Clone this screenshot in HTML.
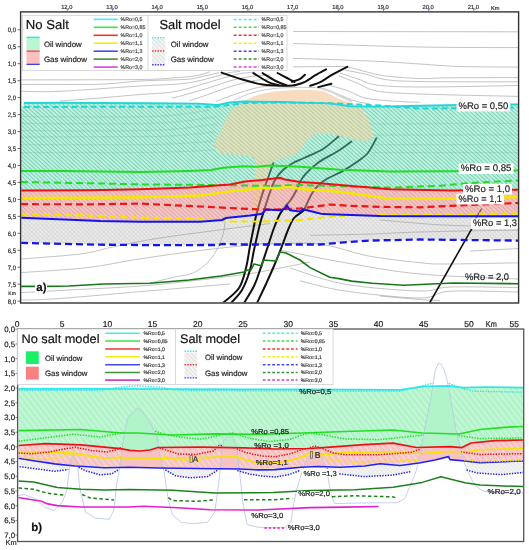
<!DOCTYPE html>
<html><head><meta charset="utf-8"><title>Maturity sections</title>
<style>html,body{margin:0;padding:0;background:#fff;width:529px;height:550px;overflow:hidden}svg{display:block}</style>
</head><body>
<svg width="529" height="550" viewBox="0 0 529 550" font-family="'Liberation Sans', Arial, sans-serif" text-rendering="geometricPrecision">
<defs>
<pattern id="hG" width="2.9" height="2.9" patternUnits="userSpaceOnUse" patternTransform="rotate(42)"><rect width="2.9" height="2.9" fill="#baf3df"/><rect y="0" width="2.9" height="0.9" fill="#80cbb3"/></pattern>
<pattern id="hO" width="3" height="3" patternUnits="userSpaceOnUse" patternTransform="rotate(42)"><rect width="3" height="3" fill="#dce3c0"/><rect y="0" width="3" height="0.9" fill="#bcc69c"/></pattern>
<pattern id="hP" width="3" height="3" patternUnits="userSpaceOnUse" patternTransform="rotate(42)"><rect width="3" height="3" fill="#f5c5c4"/><rect y="0" width="3" height="0.85" fill="#dca4a6"/></pattern>
<pattern id="hS" width="4" height="4" patternUnits="userSpaceOnUse" patternTransform="rotate(40)"><rect width="4" height="4" fill="#f2c6a8"/><rect y="0" width="4" height="1" fill="#e0b090"/></pattern>
<pattern id="hX" width="3" height="3" patternUnits="userSpaceOnUse" patternTransform="rotate(45)"><rect width="3" height="3" fill="#ededed"/><rect width="3" height="0.8" fill="#d2d2d2"/><rect width="0.8" height="3" fill="#dadada"/></pattern>
<pattern id="hL" width="3" height="3" patternUnits="userSpaceOnUse" patternTransform="rotate(45)"><rect width="3" height="3" fill="#f4f4f4"/><rect width="3" height="0.7" fill="#d8d8d8"/></pattern>
<pattern id="bG" width="6" height="6" patternUnits="userSpaceOnUse" patternTransform="rotate(45)"><rect width="6" height="6" fill="#b4f3cb"/><rect y="0" width="6" height="1.6" fill="#d6fae4"/></pattern>
<pattern id="bP" width="6" height="6" patternUnits="userSpaceOnUse" patternTransform="rotate(45)"><rect width="6" height="6" fill="#f7c4c4"/><rect y="0" width="6" height="1.4" fill="#fadada"/></pattern>
<pattern id="bX" width="3" height="3" patternUnits="userSpaceOnUse" patternTransform="rotate(45)"><rect width="3" height="3" fill="#f6f6f6"/><rect width="3" height="0.6" fill="#e2e2e2"/><rect width="0.6" height="3" fill="#e8e8e8"/></pattern>
<clipPath id="cT"><rect x="21.200000000000003" y="12.700000000000001" width="496.8" height="289.70000000000005"/></clipPath>
<clipPath id="cAbove"><polygon points="21.0,12.5 519.0,12.5 519.0,104.4 460.0,105.0 420.0,105.8 380.0,106.6 350.0,106.3 330.0,103.4 308.0,102.9 282.5,102.0 257.0,101.7 243.5,101.5 230.0,102.4 217.8,105.0 198.0,103.6 150.0,103.3 100.0,103.0 60.0,102.8 24.0,103.0 21.0,109.5"/></clipPath>
<clipPath id="cGreen"><polygon points="21.0,109.5 24.0,103.0 60.0,102.8 100.0,103.0 150.0,103.3 198.0,103.6 217.8,105.0 230.0,102.4 243.5,101.5 257.0,101.7 282.5,102.0 308.0,102.9 330.0,103.4 350.0,106.3 380.0,106.6 420.0,105.8 460.0,105.0 519.0,104.4 519.0,189.7 450.0,190.5 390.0,189.3 340.0,185.0 320.0,183.2 300.0,182.0 285.0,179.6 280.0,177.8 262.0,180.0 245.0,181.6 230.0,184.5 190.0,187.6 140.0,189.3 90.0,190.3 21.0,190.5"/></clipPath>
<clipPath id="cPink"><polygon points="21.0,190.5 90.0,190.3 140.0,189.3 190.0,187.6 230.0,184.5 245.0,181.6 262.0,180.0 280.0,177.8 285.0,179.6 300.0,182.0 320.0,183.2 340.0,185.0 390.0,189.3 450.0,190.5 519.0,189.7 519.0,216.2 420.0,216.2 380.0,216.0 351.6,215.0 322.5,214.1 316.0,212.5 303.0,209.3 300.0,211.6 290.0,210.3 287.0,205.4 285.0,208.8 280.0,210.3 266.0,209.6 262.0,213.8 250.0,215.6 226.0,218.0 222.0,220.0 200.0,221.7 140.0,221.7 100.0,221.0 64.0,219.5 21.0,217.7"/></clipPath>
<clipPath id="cOut"><polygon points="21.0,12.5 519.0,12.5 519.0,104.4 460.0,105.0 420.0,105.8 380.0,106.6 350.0,106.3 330.0,103.4 308.0,102.9 282.5,102.0 257.0,101.7 243.5,101.5 230.0,102.4 217.8,105.0 198.0,103.6 150.0,103.3 100.0,103.0 60.0,102.8 24.0,103.0 21.0,109.5"/><polygon points="21.0,217.7 64.0,219.5 100.0,221.0 140.0,221.7 200.0,221.7 222.0,220.0 226.0,218.0 250.0,215.6 262.0,213.8 266.0,209.6 280.0,210.3 285.0,208.8 287.0,205.4 290.0,210.3 300.0,211.6 303.0,209.3 316.0,212.5 322.5,214.1 351.6,215.0 380.0,216.0 420.0,216.2 519.0,216.2 519.0,303.0 21.0,303.0"/></clipPath>
<clipPath id="cB"><rect x="18.200000000000003" y="329.6" width="504.90000000000003" height="211.3"/></clipPath>
</defs>
<rect width="529" height="550" fill="#fff"/>
<g clip-path="url(#cT)">
<polygon points="21.0,217.7 64.0,219.5 100.0,221.0 140.0,221.7 200.0,221.7 222.0,220.0 226.0,218.0 250.0,215.6 262.0,213.8 266.0,209.6 280.0,210.3 285.0,208.8 287.0,205.4 290.0,210.3 300.0,211.6 303.0,209.3 316.0,212.5 322.5,214.1 351.6,215.0 380.0,216.0 420.0,216.2 519.0,216.2 519.0,240.6 420.0,239.5 372.0,240.5 341.0,242.6 320.0,244.5 240.0,244.5 222.0,244.0 218.0,245.0 150.0,245.1 100.0,244.7 21.0,242.9" fill="url(#hX)"/>
<path d="M21.0,79.9 C40.8,79.8 113.8,79.9 140.0,79.5 C166.2,79.1 168.5,78.2 178.0,77.5 C187.5,76.8 191.7,76.5 197.0,75.6 C202.3,74.6 207.8,72.4 210.0,71.8" fill="none" stroke="#9a9a9a" stroke-width="0.6" stroke-linejoin="round" stroke-linecap="butt" />
<path d="M21.0,84.4 C34.2,84.4 80.2,84.8 100.0,84.2 C119.8,83.6 125.5,81.8 140.0,81.0 C154.5,80.2 176.7,80.0 187.0,79.3 C197.3,78.5 196.7,77.6 202.0,76.5 C207.3,75.4 216.2,73.3 219.0,72.7" fill="none" stroke="#9a9a9a" stroke-width="0.6" stroke-linejoin="round" stroke-linecap="butt" />
<path d="M21.0,91.3 C27.5,91.3 40.2,92.2 60.0,91.3 C79.8,90.4 120.3,87.2 140.0,86.0 C159.7,84.8 168.5,84.8 178.0,84.0 C187.5,83.2 190.7,82.5 197.0,81.2 C203.3,80.0 210.3,77.9 215.6,76.5 C220.9,75.1 224.9,73.5 229.0,72.7 C233.1,71.9 238.2,71.7 240.0,71.5" fill="none" stroke="#9a9a9a" stroke-width="0.6" stroke-linejoin="round" stroke-linecap="butt" />
<path d="M60.0,101.0 C66.7,100.5 86.7,99.1 100.0,98.0 C113.3,96.9 128.7,95.4 140.0,94.5 C151.3,93.6 160.2,93.5 168.0,92.6 C175.8,91.6 180.7,90.4 187.0,88.8 C193.3,87.2 199.7,85.0 206.0,83.1 C212.3,81.2 219.3,79.1 225.0,77.5 C230.7,75.9 235.0,74.6 240.0,73.7 C245.0,72.8 252.5,72.3 255.0,72.0" fill="none" stroke="#9a9a9a" stroke-width="0.6" stroke-linejoin="round" stroke-linecap="butt" />
<path d="M172.0,98.2 C175.5,97.3 186.3,94.5 193.0,92.6 C199.7,90.7 206.0,88.8 212.0,86.9 C218.0,85.0 224.3,82.6 229.0,81.2 C233.7,79.8 235.7,79.3 240.0,78.4 C244.3,77.5 250.0,76.6 255.0,76.0 C260.0,75.4 267.5,75.2 270.0,75.0" fill="none" stroke="#9a9a9a" stroke-width="0.6" stroke-linejoin="round" stroke-linecap="butt" />
<path d="M189.0,101.0 C192.2,99.9 201.7,96.7 208.0,94.5 C214.3,92.3 221.7,89.5 227.0,87.8 C232.3,86.0 235.3,85.2 240.0,84.0 C244.7,82.8 250.0,81.3 255.0,80.5 C260.0,79.7 267.5,79.2 270.0,79.0" fill="none" stroke="#9a9a9a" stroke-width="0.6" stroke-linejoin="round" stroke-linecap="butt" />
<path d="M215.6,101.5 C217.8,100.7 224.9,97.9 229.0,96.4 C233.1,94.9 236.2,93.8 240.0,92.6 C243.8,91.4 247.8,90.0 252.0,89.0 C256.2,88.0 258.7,87.0 265.0,86.5 C271.3,86.0 285.8,86.1 290.0,86.0" fill="none" stroke="#9a9a9a" stroke-width="0.6" stroke-linejoin="round" stroke-linecap="butt" />
<path d="M293.0,31.5 L518.0,31.8" fill="none" stroke="#9a9a9a" stroke-width="0.6" stroke-linejoin="round" stroke-linecap="butt" />
<path d="M293.0,43.5 C314.2,44.1 382.5,46.3 420.0,47.0 C457.5,47.7 501.7,47.5 518.0,47.6" fill="none" stroke="#9a9a9a" stroke-width="0.6" stroke-linejoin="round" stroke-linecap="butt" />
<path d="M293.0,58.4 C299.2,58.6 315.5,59.0 330.0,59.5 C344.5,60.0 365.0,60.8 380.0,61.5 C395.0,62.2 406.7,63.2 420.0,64.0 C433.3,64.8 443.7,66.0 460.0,66.5 C476.3,67.0 508.3,67.0 518.0,67.1" fill="none" stroke="#9a9a9a" stroke-width="0.6" stroke-linejoin="round" stroke-linecap="butt" />
<path d="M293.0,66.9 C300.8,66.8 330.7,66.4 340.0,66.5 C349.3,66.6 344.5,66.4 349.0,67.3 C353.5,68.2 360.8,70.5 367.0,72.0 C373.2,73.5 377.2,74.9 386.0,76.0 C394.8,77.1 409.3,78.2 420.0,78.5 C430.7,78.8 433.7,78.0 450.0,77.8 C466.3,77.6 506.7,77.6 518.0,77.6" fill="none" stroke="#9a9a9a" stroke-width="0.6" stroke-linejoin="round" stroke-linecap="butt" />
<path d="M345.0,70.0 C348.7,70.8 360.2,72.9 367.0,74.5 C373.8,76.1 377.2,78.4 386.0,79.6 C394.8,80.8 398.0,81.1 420.0,81.5 C442.0,81.9 501.7,81.8 518.0,81.8" fill="none" stroke="#9a9a9a" stroke-width="0.6" stroke-linejoin="round" stroke-linecap="butt" />
<path d="M340.0,73.0 C343.0,74.0 351.9,77.0 358.0,79.0 C364.1,81.0 366.4,83.7 376.7,85.0 C387.0,86.3 396.4,86.9 420.0,87.0 C443.6,87.1 501.7,85.8 518.0,85.5" fill="none" stroke="#9a9a9a" stroke-width="0.6" stroke-linejoin="round" stroke-linecap="butt" />
<path d="M339.0,75.8 C342.2,77.1 351.7,80.9 358.0,83.4 C364.3,85.9 366.4,89.2 376.7,91.0 C387.0,92.8 396.4,93.1 420.0,94.0 C443.6,94.9 501.7,96.0 518.0,96.4" fill="none" stroke="#9a9a9a" stroke-width="0.6" stroke-linejoin="round" stroke-linecap="butt" />
<path d="M329.5,85.2 C332.6,86.2 342.1,88.8 348.4,91.0 C354.6,93.2 358.4,96.8 367.0,98.5 C375.6,100.2 391.2,100.9 400.0,101.5 C408.8,102.1 416.7,102.2 420.0,102.3" fill="none" stroke="#9a9a9a" stroke-width="0.6" stroke-linejoin="round" stroke-linecap="butt" />
<path d="M322.0,89.0 C325.0,90.0 334.5,93.0 340.0,95.0 C345.5,97.0 350.0,99.5 355.0,101.0 C360.0,102.5 367.5,103.5 370.0,104.0" fill="none" stroke="#9a9a9a" stroke-width="0.6" stroke-linejoin="round" stroke-linecap="butt" />
<path d="M21.0,116.5 C37.5,116.6 95.2,117.1 120.0,116.9 C144.8,116.7 155.0,116.7 170.0,115.5 C185.0,114.3 203.3,110.9 210.0,110.0" fill="none" stroke="#9a9a9a" stroke-width="0.6" stroke-linejoin="round" stroke-linecap="butt" />
<path d="M21.0,123.5 C37.5,123.5 95.2,124.0 120.0,123.8 C144.8,123.6 154.2,123.6 170.0,122.5 C185.8,121.4 207.5,117.9 215.0,117.0" fill="none" stroke="#9a9a9a" stroke-width="0.6" stroke-linejoin="round" stroke-linecap="butt" />
<path d="M21.0,130.5 C37.5,130.6 95.2,131.0 120.0,130.8 C144.8,130.6 153.7,130.6 170.0,129.5 C186.3,128.4 210.0,124.9 218.0,124.0" fill="none" stroke="#9a9a9a" stroke-width="0.6" stroke-linejoin="round" stroke-linecap="butt" />
<path d="M21.0,137.0 C37.5,136.9 95.2,136.9 120.0,136.7 C144.8,136.5 154.2,136.8 170.0,136.0 C185.8,135.2 207.5,132.7 215.0,132.0" fill="none" stroke="#9a9a9a" stroke-width="0.6" stroke-linejoin="round" stroke-linecap="butt" />
<path d="M21.0,144.7 C37.5,144.7 95.2,144.8 120.0,144.7 C144.8,144.6 154.3,144.6 170.0,144.0 C185.7,143.4 206.7,141.5 214.0,141.0" fill="none" stroke="#9a9a9a" stroke-width="0.6" stroke-linejoin="round" stroke-linecap="butt" />
<path d="M21.0,152.6 C37.5,152.6 95.2,152.7 120.0,152.6 C144.8,152.5 154.0,152.4 170.0,152.0 C186.0,151.6 208.3,150.3 216.0,150.0" fill="none" stroke="#9a9a9a" stroke-width="0.6" stroke-linejoin="round" stroke-linecap="butt" />
<path d="M372.0,124.0 C385.0,123.9 425.7,123.6 450.0,123.5 C474.3,123.4 506.7,123.5 518.0,123.5" fill="none" stroke="#9a9a9a" stroke-width="0.6" stroke-linejoin="round" stroke-linecap="butt" />
<path d="M372.0,135.0 C385.0,135.0 425.7,134.9 450.0,134.9 C474.3,134.9 506.7,134.9 518.0,134.9" fill="none" stroke="#9a9a9a" stroke-width="0.6" stroke-linejoin="round" stroke-linecap="butt" />
<path d="M372.0,144.7 C385.0,144.7 425.7,144.7 450.0,144.7 C474.3,144.7 506.7,144.7 518.0,144.7" fill="none" stroke="#9a9a9a" stroke-width="0.6" stroke-linejoin="round" stroke-linecap="butt" />
<path d="M372.0,152.6 C385.0,152.6 425.7,152.6 450.0,152.6 C474.3,152.6 506.7,152.6 518.0,152.6" fill="none" stroke="#9a9a9a" stroke-width="0.6" stroke-linejoin="round" stroke-linecap="butt" />
<path d="M21.0,259.0 C31.0,258.1 65.8,255.9 81.0,253.9 C96.2,251.9 99.5,249.7 112.0,247.1 C124.5,244.5 141.3,241.0 156.0,238.6 C170.7,236.2 184.3,234.6 200.0,232.5 C215.7,230.4 238.3,227.5 250.0,226.0 C261.7,224.5 266.7,223.9 270.0,223.5" fill="none" stroke="#9a9a9a" stroke-width="0.6" stroke-linejoin="round" stroke-linecap="butt" />
<path d="M21.0,272.6 C32.2,271.8 68.3,269.8 88.0,267.5 C107.7,265.2 120.3,261.8 139.0,259.0 C157.7,256.2 178.2,253.2 200.0,250.5 C221.8,247.8 258.3,244.2 270.0,243.0" fill="none" stroke="#9a9a9a" stroke-width="0.6" stroke-linejoin="round" stroke-linecap="butt" />
<path d="M21.0,292.6 C29.0,292.2 47.5,291.2 69.0,290.0 C90.5,288.8 121.5,287.7 150.0,285.2 C178.5,282.7 218.3,277.9 240.0,275.0 C261.7,272.1 268.3,270.2 280.0,268.0 C291.7,265.8 305.0,263.0 310.0,262.0" fill="none" stroke="#9a9a9a" stroke-width="0.6" stroke-linejoin="round" stroke-linecap="butt" />
<path d="M21.0,300.0 C27.0,299.8 35.5,300.2 57.0,298.7 C78.5,297.2 121.2,293.2 150.0,290.8 C178.8,288.4 216.7,285.1 230.0,284.0" fill="none" stroke="#9a9a9a" stroke-width="0.6" stroke-linejoin="round" stroke-linecap="butt" />
<path d="M270.0,244.0 C278.3,244.0 303.7,242.0 320.0,244.0 C336.3,246.0 351.3,252.8 368.0,255.9 C384.7,259.0 406.8,261.3 420.0,262.7 C433.2,264.1 430.7,264.0 447.0,264.0 C463.3,264.0 506.2,263.0 518.0,262.8" fill="none" stroke="#9a9a9a" stroke-width="0.6" stroke-linejoin="round" stroke-linecap="butt" />
<path d="M470.0,251.0 L518.0,248.6" fill="none" stroke="#9a9a9a" stroke-width="0.6" stroke-linejoin="round" stroke-linecap="butt" />
<path d="M280.0,250.0 C290.8,252.1 321.7,258.7 345.0,262.7 C368.3,266.7 391.2,271.3 420.0,274.0 C448.8,276.7 501.7,278.2 518.0,279.0" fill="none" stroke="#9a9a9a" stroke-width="0.6" stroke-linejoin="round" stroke-linecap="butt" />
<path d="M290.0,268.0 C299.2,270.7 323.3,280.4 345.0,284.2 C366.7,288.0 402.5,290.5 420.0,291.0 C437.5,291.5 433.7,287.6 450.0,287.0 C466.3,286.4 506.7,287.5 518.0,287.6" fill="none" stroke="#9a9a9a" stroke-width="0.6" stroke-linejoin="round" stroke-linecap="butt" />
<path d="M300.0,280.8 C307.5,282.5 325.0,288.1 345.0,291.0 C365.0,293.9 402.5,298.0 420.0,298.0 C437.5,298.0 433.7,292.2 450.0,291.2 C466.3,290.2 506.7,291.9 518.0,292.0" fill="none" stroke="#9a9a9a" stroke-width="0.6" stroke-linejoin="round" stroke-linecap="butt" />
<path d="M380.0,296.0 C386.7,296.6 410.0,298.7 420.0,299.5 C430.0,300.3 436.7,300.4 440.0,300.6" fill="none" stroke="#9a9a9a" stroke-width="0.6" stroke-linejoin="round" stroke-linecap="butt" />
<path d="M380.0,220.0 C391.7,220.9 427.0,224.4 450.0,225.4 C473.0,226.4 506.7,225.9 518.0,226.0" fill="none" stroke="#9a9a9a" stroke-width="0.6" stroke-linejoin="round" stroke-linecap="butt" />
<path d="M310.0,235.3 C320.3,235.1 353.7,234.6 372.0,234.0 C390.3,233.4 395.7,232.7 420.0,232.0 C444.3,231.3 501.7,230.3 518.0,230.0" fill="none" stroke="#9a9a9a" stroke-width="0.6" stroke-linejoin="round" stroke-linecap="butt" />
<path d="M150.0,283.0 C154.2,282.0 167.7,278.7 175.0,277.0 C182.3,275.3 187.9,275.5 193.6,272.8 C199.3,270.1 204.8,265.5 209.0,261.0 C213.2,256.5 216.5,250.7 219.0,245.6 C221.5,240.5 223.0,234.6 224.0,230.3 C225.0,226.0 224.8,221.7 225.0,220.0" fill="none" stroke="#9a9a9a" stroke-width="0.6" stroke-linejoin="round" stroke-linecap="butt" />
<polygon points="21.0,109.5 24.0,103.0 60.0,102.8 100.0,103.0 150.0,103.3 198.0,103.6 217.8,105.0 230.0,102.4 243.5,101.5 257.0,101.7 282.5,102.0 308.0,102.9 330.0,103.4 350.0,106.3 380.0,106.6 420.0,105.8 460.0,105.0 519.0,104.4 519.0,189.7 450.0,190.5 390.0,189.3 340.0,185.0 320.0,183.2 300.0,182.0 285.0,179.6 280.0,177.8 262.0,180.0 245.0,181.6 230.0,184.5 190.0,187.6 140.0,189.3 90.0,190.3 21.0,190.5" fill="url(#hG)"/>
<path d="M21.0,116.5 C37.5,116.6 95.2,117.1 120.0,116.9 C144.8,116.7 155.0,116.7 170.0,115.5 C185.0,114.3 203.3,110.9 210.0,110.0" fill="none" stroke="#7fbfae" stroke-width="0.5" stroke-linejoin="round" stroke-linecap="butt" stroke-opacity="0.7" />
<path d="M21.0,123.5 C37.5,123.5 95.2,124.0 120.0,123.8 C144.8,123.6 154.2,123.6 170.0,122.5 C185.8,121.4 207.5,117.9 215.0,117.0" fill="none" stroke="#7fbfae" stroke-width="0.5" stroke-linejoin="round" stroke-linecap="butt" stroke-opacity="0.7" />
<path d="M21.0,130.5 C37.5,130.6 95.2,131.0 120.0,130.8 C144.8,130.6 153.7,130.6 170.0,129.5 C186.3,128.4 210.0,124.9 218.0,124.0" fill="none" stroke="#7fbfae" stroke-width="0.5" stroke-linejoin="round" stroke-linecap="butt" stroke-opacity="0.7" />
<path d="M21.0,137.0 C37.5,136.9 95.2,136.9 120.0,136.7 C144.8,136.5 154.2,136.8 170.0,136.0 C185.8,135.2 207.5,132.7 215.0,132.0" fill="none" stroke="#7fbfae" stroke-width="0.5" stroke-linejoin="round" stroke-linecap="butt" stroke-opacity="0.7" />
<path d="M21.0,144.7 C37.5,144.7 95.2,144.8 120.0,144.7 C144.8,144.6 154.3,144.6 170.0,144.0 C185.7,143.4 206.7,141.5 214.0,141.0" fill="none" stroke="#7fbfae" stroke-width="0.5" stroke-linejoin="round" stroke-linecap="butt" stroke-opacity="0.7" />
<path d="M21.0,152.6 C37.5,152.6 95.2,152.7 120.0,152.6 C144.8,152.5 154.0,152.4 170.0,152.0 C186.0,151.6 208.3,150.3 216.0,150.0" fill="none" stroke="#7fbfae" stroke-width="0.5" stroke-linejoin="round" stroke-linecap="butt" stroke-opacity="0.7" />
<path d="M372.0,124.0 C385.0,123.9 425.7,123.6 450.0,123.5 C474.3,123.4 506.7,123.5 518.0,123.5" fill="none" stroke="#7fbfae" stroke-width="0.5" stroke-linejoin="round" stroke-linecap="butt" stroke-opacity="0.7" />
<path d="M372.0,135.0 C385.0,135.0 425.7,134.9 450.0,134.9 C474.3,134.9 506.7,134.9 518.0,134.9" fill="none" stroke="#7fbfae" stroke-width="0.5" stroke-linejoin="round" stroke-linecap="butt" stroke-opacity="0.7" />
<path d="M372.0,144.7 C385.0,144.7 425.7,144.7 450.0,144.7 C474.3,144.7 506.7,144.7 518.0,144.7" fill="none" stroke="#7fbfae" stroke-width="0.5" stroke-linejoin="round" stroke-linecap="butt" stroke-opacity="0.7" />
<path d="M372.0,152.6 C385.0,152.6 425.7,152.6 450.0,152.6 C474.3,152.6 506.7,152.6 518.0,152.6" fill="none" stroke="#7fbfae" stroke-width="0.5" stroke-linejoin="round" stroke-linecap="butt" stroke-opacity="0.7" />
<polygon points="21.0,190.5 90.0,190.3 140.0,189.3 190.0,187.6 230.0,184.5 245.0,181.6 262.0,180.0 280.0,177.8 285.0,179.6 300.0,182.0 320.0,183.2 340.0,185.0 390.0,189.3 450.0,190.5 519.0,189.7 519.0,216.2 420.0,216.2 380.0,216.0 351.6,215.0 322.5,214.1 316.0,212.5 303.0,209.3 300.0,211.6 290.0,210.3 287.0,205.4 285.0,208.8 280.0,210.3 266.0,209.6 262.0,213.8 250.0,215.6 226.0,218.0 222.0,220.0 200.0,221.7 140.0,221.7 100.0,221.0 64.0,219.5 21.0,217.7" fill="url(#hP)"/>
<g clip-path="url(#cAbove)"><polygon points="240.0,102.0 243.5,101.2 248.0,99.0 253.0,96.8 262.4,93.8 274.0,91.5 291.0,90.2 308.0,89.8 323.5,91.0 336.7,97.8 345.0,101.0 352.0,103.0 357.0,105.5 363.0,110.0 367.5,117.0 371.0,126.0 373.5,134.0 372.5,138.5 368.0,140.5 362.0,140.8 355.6,139.7 344.3,136.9 331.0,134.0 317.8,133.6 310.2,136.9 304.6,143.5 300.8,149.0 295.0,154.8 285.7,157.7 278.0,159.5 274.0,162.0 268.0,178.0 262.0,195.0 258.0,207.0 256.0,216.0 253.0,217.0 252.4,215.0 253.0,200.0 254.6,177.0 255.3,165.0 254.0,157.0 240.0,155.0 222.0,153.5 217.0,151.0 214.0,145.0 216.0,139.0 220.5,132.0 222.2,126.0 226.7,118.0 232.4,109.0 239.0,103.3" fill="#f9dcc0"/></g>
<g clip-path="url(#cGreen)"><polygon points="240.0,102.0 243.5,101.2 248.0,99.0 253.0,96.8 262.4,93.8 274.0,91.5 291.0,90.2 308.0,89.8 323.5,91.0 336.7,97.8 345.0,101.0 352.0,103.0 357.0,105.5 363.0,110.0 367.5,117.0 371.0,126.0 373.5,134.0 372.5,138.5 368.0,140.5 362.0,140.8 355.6,139.7 344.3,136.9 331.0,134.0 317.8,133.6 310.2,136.9 304.6,143.5 300.8,149.0 295.0,154.8 285.7,157.7 278.0,159.5 274.0,162.0 268.0,178.0 262.0,195.0 258.0,207.0 256.0,216.0 253.0,217.0 252.4,215.0 253.0,200.0 254.6,177.0 255.3,165.0 254.0,157.0 240.0,155.0 222.0,153.5 217.0,151.0 214.0,145.0 216.0,139.0 220.5,132.0 222.2,126.0 226.7,118.0 232.4,109.0 239.0,103.3" fill="url(#hO)"/></g>
<g clip-path="url(#cPink)"><polygon points="240.0,102.0 243.5,101.2 248.0,99.0 253.0,96.8 262.4,93.8 274.0,91.5 291.0,90.2 308.0,89.8 323.5,91.0 336.7,97.8 345.0,101.0 352.0,103.0 357.0,105.5 363.0,110.0 367.5,117.0 371.0,126.0 373.5,134.0 372.5,138.5 368.0,140.5 362.0,140.8 355.6,139.7 344.3,136.9 331.0,134.0 317.8,133.6 310.2,136.9 304.6,143.5 300.8,149.0 295.0,154.8 285.7,157.7 278.0,159.5 274.0,162.0 268.0,178.0 262.0,195.0 258.0,207.0 256.0,216.0 253.0,217.0 252.4,215.0 253.0,200.0 254.6,177.0 255.3,165.0 254.0,157.0 240.0,155.0 222.0,153.5 217.0,151.0 214.0,145.0 216.0,139.0 220.5,132.0 222.2,126.0 226.7,118.0 232.4,109.0 239.0,103.3" fill="url(#hS)"/></g>
<path d="M318.0,87.5 C320.0,88.1 326.3,89.6 330.0,91.0 C333.7,92.4 336.3,94.2 340.0,96.0 C343.7,97.8 350.0,100.6 352.0,101.5" fill="none" stroke="#d8d8d8" stroke-width="2.2" stroke-linejoin="round" stroke-linecap="butt" />
<path d="M234.0,100.5 C235.8,99.6 240.3,97.0 245.0,95.3 C249.7,93.6 256.2,91.5 262.0,90.3 C267.8,89.1 273.7,88.5 280.0,88.0 C286.3,87.5 293.7,87.5 300.0,87.4 C306.3,87.4 315.0,87.7 318.0,87.7" fill="none" stroke="#c4c4c4" stroke-width="0.9" stroke-linejoin="round" stroke-linecap="butt" />
<g clip-path="url(#cOut)"><path d="M223.0,303.0 C225.7,300.5 235.2,293.8 239.0,288.0 C242.8,282.2 244.2,275.0 246.0,268.0 C247.8,261.0 248.7,253.0 250.0,246.0 C251.3,239.0 253.0,231.0 254.0,226.0 C255.0,221.0 254.7,221.2 256.0,216.0 C257.3,210.8 260.0,201.3 262.0,195.0 C264.0,188.7 266.1,183.4 268.0,178.0 C269.9,172.6 272.6,165.1 273.5,162.5" fill="none" stroke="#111" stroke-width="2.0" stroke-linejoin="round" stroke-linecap="butt" /></g>
<g clip-path="url(#cGreen)"><path d="M223.0,303.0 C225.7,300.5 235.2,293.8 239.0,288.0 C242.8,282.2 244.2,275.0 246.0,268.0 C247.8,261.0 248.7,253.0 250.0,246.0 C251.3,239.0 253.0,231.0 254.0,226.0 C255.0,221.0 254.7,221.2 256.0,216.0 C257.3,210.8 260.0,201.3 262.0,195.0 C264.0,188.7 266.1,183.4 268.0,178.0 C269.9,172.6 272.6,165.1 273.5,162.5" fill="none" stroke="#2e6e5e" stroke-width="1.8" stroke-linejoin="round" stroke-linecap="butt" /></g>
<g clip-path="url(#cPink)"><path d="M223.0,303.0 C225.7,300.5 235.2,293.8 239.0,288.0 C242.8,282.2 244.2,275.0 246.0,268.0 C247.8,261.0 248.7,253.0 250.0,246.0 C251.3,239.0 253.0,231.0 254.0,226.0 C255.0,221.0 254.7,221.2 256.0,216.0 C257.3,210.8 260.0,201.3 262.0,195.0 C264.0,188.7 266.1,183.4 268.0,178.0 C269.9,172.6 272.6,165.1 273.5,162.5" fill="none" stroke="#8a5a58" stroke-width="2.0" stroke-linejoin="round" stroke-linecap="butt" /></g>
<g clip-path="url(#cOut)"><path d="M231.0,303.0 C232.8,300.8 238.8,295.5 242.0,290.0 C245.2,284.5 248.0,276.7 250.0,270.0 C252.0,263.3 252.3,257.7 254.0,250.0 C255.7,242.3 258.5,230.0 260.0,224.0 C261.5,218.0 261.5,218.8 263.0,214.0 C264.5,209.2 267.0,200.7 269.0,195.0 C271.0,189.3 272.7,184.2 275.0,180.0 C277.3,175.8 280.0,172.8 283.0,170.0 C286.0,167.2 289.5,165.0 293.0,163.0 C296.5,161.0 299.0,160.3 304.0,158.0 C309.0,155.7 317.2,152.7 323.0,149.0 C328.8,145.3 336.3,138.2 339.0,136.0" fill="none" stroke="#111" stroke-width="2.0" stroke-linejoin="round" stroke-linecap="butt" /></g>
<g clip-path="url(#cGreen)"><path d="M231.0,303.0 C232.8,300.8 238.8,295.5 242.0,290.0 C245.2,284.5 248.0,276.7 250.0,270.0 C252.0,263.3 252.3,257.7 254.0,250.0 C255.7,242.3 258.5,230.0 260.0,224.0 C261.5,218.0 261.5,218.8 263.0,214.0 C264.5,209.2 267.0,200.7 269.0,195.0 C271.0,189.3 272.7,184.2 275.0,180.0 C277.3,175.8 280.0,172.8 283.0,170.0 C286.0,167.2 289.5,165.0 293.0,163.0 C296.5,161.0 299.0,160.3 304.0,158.0 C309.0,155.7 317.2,152.7 323.0,149.0 C328.8,145.3 336.3,138.2 339.0,136.0" fill="none" stroke="#2e6e5e" stroke-width="1.8" stroke-linejoin="round" stroke-linecap="butt" /></g>
<g clip-path="url(#cPink)"><path d="M231.0,303.0 C232.8,300.8 238.8,295.5 242.0,290.0 C245.2,284.5 248.0,276.7 250.0,270.0 C252.0,263.3 252.3,257.7 254.0,250.0 C255.7,242.3 258.5,230.0 260.0,224.0 C261.5,218.0 261.5,218.8 263.0,214.0 C264.5,209.2 267.0,200.7 269.0,195.0 C271.0,189.3 272.7,184.2 275.0,180.0 C277.3,175.8 280.0,172.8 283.0,170.0 C286.0,167.2 289.5,165.0 293.0,163.0 C296.5,161.0 299.0,160.3 304.0,158.0 C309.0,155.7 317.2,152.7 323.0,149.0 C328.8,145.3 336.3,138.2 339.0,136.0" fill="none" stroke="#8a5a58" stroke-width="2.0" stroke-linejoin="round" stroke-linecap="butt" /></g>
<g clip-path="url(#cOut)"><path d="M244.0,303.0 C245.7,300.2 251.3,291.5 254.0,286.0 C256.7,280.5 257.7,276.7 260.0,270.0 C262.3,263.3 265.7,253.0 268.0,246.0 C270.3,239.0 272.0,233.3 274.0,228.0 C276.0,222.7 278.0,217.7 280.0,214.0 C282.0,210.3 284.2,207.9 286.0,205.6 C287.8,203.3 289.0,202.5 290.7,200.0 C292.4,197.5 294.8,193.5 296.3,190.5 C297.9,187.5 298.4,184.8 300.0,182.0 C301.6,179.2 302.8,176.8 306.0,173.5 C309.2,170.2 313.7,165.8 319.0,162.0 C324.3,158.2 332.5,154.5 338.0,151.0 C343.5,147.5 349.7,142.7 352.0,141.0" fill="none" stroke="#111" stroke-width="2.0" stroke-linejoin="round" stroke-linecap="butt" /></g>
<g clip-path="url(#cGreen)"><path d="M244.0,303.0 C245.7,300.2 251.3,291.5 254.0,286.0 C256.7,280.5 257.7,276.7 260.0,270.0 C262.3,263.3 265.7,253.0 268.0,246.0 C270.3,239.0 272.0,233.3 274.0,228.0 C276.0,222.7 278.0,217.7 280.0,214.0 C282.0,210.3 284.2,207.9 286.0,205.6 C287.8,203.3 289.0,202.5 290.7,200.0 C292.4,197.5 294.8,193.5 296.3,190.5 C297.9,187.5 298.4,184.8 300.0,182.0 C301.6,179.2 302.8,176.8 306.0,173.5 C309.2,170.2 313.7,165.8 319.0,162.0 C324.3,158.2 332.5,154.5 338.0,151.0 C343.5,147.5 349.7,142.7 352.0,141.0" fill="none" stroke="#2e6e5e" stroke-width="1.8" stroke-linejoin="round" stroke-linecap="butt" /></g>
<g clip-path="url(#cPink)"><path d="M244.0,303.0 C245.7,300.2 251.3,291.5 254.0,286.0 C256.7,280.5 257.7,276.7 260.0,270.0 C262.3,263.3 265.7,253.0 268.0,246.0 C270.3,239.0 272.0,233.3 274.0,228.0 C276.0,222.7 278.0,217.7 280.0,214.0 C282.0,210.3 284.2,207.9 286.0,205.6 C287.8,203.3 289.0,202.5 290.7,200.0 C292.4,197.5 294.8,193.5 296.3,190.5 C297.9,187.5 298.4,184.8 300.0,182.0 C301.6,179.2 302.8,176.8 306.0,173.5 C309.2,170.2 313.7,165.8 319.0,162.0 C324.3,158.2 332.5,154.5 338.0,151.0 C343.5,147.5 349.7,142.7 352.0,141.0" fill="none" stroke="#8a5a58" stroke-width="2.0" stroke-linejoin="round" stroke-linecap="butt" /></g>
<g clip-path="url(#cOut)"><path d="M257.0,303.0 C258.5,299.8 263.2,290.2 266.0,284.0 C268.8,277.8 271.3,272.3 274.0,266.0 C276.7,259.7 279.7,252.0 282.0,246.0 C284.3,240.0 286.0,234.7 288.0,230.0 C290.0,225.3 291.5,221.2 294.0,218.0 C296.5,214.8 301.0,213.1 303.0,211.0 C305.0,208.9 304.6,208.4 306.0,205.6 C307.4,202.8 309.7,197.5 311.5,194.3 C313.3,191.2 314.5,189.2 317.0,186.7 C319.5,184.1 322.5,181.5 326.6,179.0 C330.7,176.5 336.7,174.4 341.7,171.6 C346.7,168.8 352.4,165.2 356.8,162.0 C361.2,158.8 364.7,156.8 368.0,152.7 C371.3,148.6 375.2,140.1 376.7,137.6" fill="none" stroke="#111" stroke-width="2.0" stroke-linejoin="round" stroke-linecap="butt" /></g>
<g clip-path="url(#cGreen)"><path d="M257.0,303.0 C258.5,299.8 263.2,290.2 266.0,284.0 C268.8,277.8 271.3,272.3 274.0,266.0 C276.7,259.7 279.7,252.0 282.0,246.0 C284.3,240.0 286.0,234.7 288.0,230.0 C290.0,225.3 291.5,221.2 294.0,218.0 C296.5,214.8 301.0,213.1 303.0,211.0 C305.0,208.9 304.6,208.4 306.0,205.6 C307.4,202.8 309.7,197.5 311.5,194.3 C313.3,191.2 314.5,189.2 317.0,186.7 C319.5,184.1 322.5,181.5 326.6,179.0 C330.7,176.5 336.7,174.4 341.7,171.6 C346.7,168.8 352.4,165.2 356.8,162.0 C361.2,158.8 364.7,156.8 368.0,152.7 C371.3,148.6 375.2,140.1 376.7,137.6" fill="none" stroke="#2e6e5e" stroke-width="1.8" stroke-linejoin="round" stroke-linecap="butt" /></g>
<g clip-path="url(#cPink)"><path d="M257.0,303.0 C258.5,299.8 263.2,290.2 266.0,284.0 C268.8,277.8 271.3,272.3 274.0,266.0 C276.7,259.7 279.7,252.0 282.0,246.0 C284.3,240.0 286.0,234.7 288.0,230.0 C290.0,225.3 291.5,221.2 294.0,218.0 C296.5,214.8 301.0,213.1 303.0,211.0 C305.0,208.9 304.6,208.4 306.0,205.6 C307.4,202.8 309.7,197.5 311.5,194.3 C313.3,191.2 314.5,189.2 317.0,186.7 C319.5,184.1 322.5,181.5 326.6,179.0 C330.7,176.5 336.7,174.4 341.7,171.6 C346.7,168.8 352.4,165.2 356.8,162.0 C361.2,158.8 364.7,156.8 368.0,152.7 C371.3,148.6 375.2,140.1 376.7,137.6" fill="none" stroke="#8a5a58" stroke-width="2.0" stroke-linejoin="round" stroke-linecap="butt" /></g>
<path d="M429.6,303.0 L472.0,228.3" fill="none" stroke="#111" stroke-width="1.6" stroke-linejoin="round" stroke-linecap="butt" />
<path d="M472.0,228.3 L476.0,218.0 L481.7,208.7" fill="none" stroke="#8a5a58" stroke-width="1.4" stroke-linejoin="round" stroke-linecap="butt" />
<path d="M221.6,72.6 C224.9,73.7 234.7,77.2 241.5,79.2 C248.3,81.2 255.6,83.4 262.6,84.5 C269.7,85.6 278.5,85.7 283.8,85.8 C289.1,85.9 292.6,85.4 294.4,85.3" fill="none" stroke="#111" stroke-width="2.0" stroke-linejoin="round" stroke-linecap="round" />
<path d="M253.4,73.1 C255.8,74.5 263.7,79.8 267.9,81.8 C272.1,83.8 276.7,84.7 278.5,85.3" fill="none" stroke="#111" stroke-width="2.0" stroke-linejoin="round" stroke-linecap="round" />
<path d="M262.6,73.1 C264.8,74.4 271.8,79.0 275.8,81.0 C279.8,83.0 284.6,84.6 286.4,85.3" fill="none" stroke="#111" stroke-width="2.0" stroke-linejoin="round" stroke-linecap="round" />
<path d="M277.5,73.0 C278.9,73.8 283.2,76.0 286.0,77.5 C288.8,79.0 293.1,81.2 294.5,82.0" fill="none" stroke="#111" stroke-width="2.0" stroke-linejoin="round" stroke-linecap="round" />
<path d="M305.0,74.7 C304.1,75.5 301.9,78.0 299.7,79.2 C297.5,80.4 293.0,81.4 291.7,81.8" fill="none" stroke="#111" stroke-width="2.0" stroke-linejoin="round" stroke-linecap="round" />
<path d="M326.1,69.4 C324.3,70.4 319.0,73.1 315.5,75.2 C312.0,77.3 308.5,80.1 305.0,81.8 C301.5,83.5 296.2,84.7 294.4,85.3" fill="none" stroke="#111" stroke-width="2.0" stroke-linejoin="round" stroke-linecap="round" />
<path d="M347.3,66.8 C344.6,68.2 335.8,72.7 331.4,75.2 C327.0,77.7 324.3,80.0 320.8,81.8 C317.3,83.6 312.0,85.1 310.2,85.8" fill="none" stroke="#111" stroke-width="2.0" stroke-linejoin="round" stroke-linecap="round" />
<path d="M331.4,83.7 L318.2,87.1" fill="none" stroke="#111" stroke-width="2.0" stroke-linejoin="round" stroke-linecap="round" />
<path d="M21.0,242.9 L100.0,244.7 L150.0,245.1 L218.0,245.0 L222.0,244.0 L240.0,244.5 L320.0,244.5 L341.0,242.6 L372.0,240.5 L420.0,239.5 L519.0,240.6" fill="none" stroke="#1515e8" stroke-width="2.3" stroke-linejoin="round" stroke-linecap="butt" stroke-dasharray="7 4" />
<path d="M21.0,286.4 L44.6,286.4 L69.0,286.0 L103.5,284.0 L150.0,283.2 L189.0,280.0 L221.0,276.0 L244.0,272.0 L247.0,270.0 L251.0,270.0 L254.0,264.0 L262.0,266.0 L263.0,260.0 L276.0,261.0 L280.0,252.0 L286.0,253.0 L300.0,260.0 L310.0,267.6 L329.8,277.3 L339.0,278.6 L351.6,281.1 L372.4,283.2 L403.6,285.2 L453.5,283.0 L519.0,283.7" fill="none" stroke="#187818" stroke-width="1.6" stroke-linejoin="round" stroke-linecap="butt" />
<path d="M21.0,214.1 L60.0,214.5 L140.0,217.6 L200.0,218.8 L230.0,221.5 L260.0,221.5 L300.0,220.0 L322.0,217.5 L335.0,216.2 L345.0,215.8" fill="none" stroke="#f2e600" stroke-width="2.2" stroke-linejoin="round" stroke-linecap="butt" stroke-dasharray="7 4" />
<path d="M380.0,214.3 L420.0,214.5 L519.0,213.5" fill="none" stroke="#f2e600" stroke-width="2.2" stroke-linejoin="round" stroke-linecap="butt" stroke-dasharray="7 4" />
<path d="M21.0,204.2 L90.0,204.3 L140.0,203.6 L200.0,206.5 L250.0,209.0 L270.0,209.7 L300.0,208.5 L330.0,204.6 L351.0,205.8 L380.0,206.9 L420.0,207.3 L470.0,205.0 L519.0,202.9" fill="none" stroke="#ee1515" stroke-width="2.2" stroke-linejoin="round" stroke-linecap="butt" stroke-dasharray="7 4" />
<path d="M21.0,182.1 L80.0,183.0 L140.0,184.4 L220.0,185.0 L270.0,186.0 L300.0,185.0 L390.0,187.6 L440.0,185.7 L470.0,183.0 L519.0,180.4" fill="none" stroke="#22dd22" stroke-width="2.0" stroke-linejoin="round" stroke-linecap="butt" stroke-dasharray="7 4" />
<path d="M21.0,217.7 L64.0,219.5 L100.0,221.0 L140.0,221.7 L200.0,221.7 L222.0,220.0 L226.0,218.0 L250.0,215.6 L262.0,213.8 L266.0,209.6 L280.0,210.3 L285.0,208.8 L287.0,205.4 L290.0,210.3 L300.0,211.6 L303.0,209.3 L316.0,212.5 L322.5,214.1 L351.6,215.0 L380.0,216.0 L420.0,216.2 L519.0,216.2" fill="none" stroke="#1515e8" stroke-width="2.0" stroke-linejoin="round" stroke-linecap="butt" />
<path d="M21.0,198.0 L90.0,197.8 L140.0,197.2 L200.0,195.5 L230.0,191.4 L250.0,189.2 L265.0,187.7 L275.0,188.4 L290.0,186.9 L300.0,189.0 L340.0,191.8 L390.0,198.6 L450.0,198.5 L519.0,197.0" fill="none" stroke="#f5e800" stroke-width="2.4" stroke-linejoin="round" stroke-linecap="butt" />
<path d="M21.0,190.5 L90.0,190.3 L140.0,189.3 L190.0,187.6 L230.0,184.5 L245.0,181.6 L262.0,180.0 L280.0,177.8 L285.0,179.6 L300.0,182.0 L320.0,183.2 L340.0,185.0 L390.0,189.3 L450.0,190.5 L519.0,189.7" fill="none" stroke="#ee1111" stroke-width="2.0" stroke-linejoin="round" stroke-linecap="butt" />
<path d="M21.0,171.0 L64.0,171.0 L140.0,172.1 L190.0,171.0 L211.0,170.1 L223.5,167.7 L243.0,166.2 L257.0,166.7 L270.0,165.5 L300.0,166.7 L340.0,169.7 L390.0,171.6 L450.0,171.2 L519.0,170.5" fill="none" stroke="#22dd22" stroke-width="2.0" stroke-linejoin="round" stroke-linecap="butt" />
<path d="M24.0,107.0 L100.0,106.8 L215.0,106.8 L232.0,104.5 L245.0,103.0 L280.0,102.5 L320.0,102.9 L357.8,104.4 L380.5,105.6 L420.0,108.6 L519.0,107.6" fill="none" stroke="#20d6d6" stroke-width="2.0" stroke-linejoin="round" stroke-linecap="butt" stroke-dasharray="6 3.5" />
<path d="M24.0,103.0 L60.0,102.8 L100.0,103.0 L150.0,103.3 L198.0,103.6 L217.8,105.0 L230.0,102.4 L243.5,101.5 L257.0,101.7 L282.5,102.0 L308.0,102.9 L330.0,103.4 L350.0,106.3 L380.0,106.6 L420.0,105.8 L460.0,105.0 L519.0,104.4" fill="none" stroke="#1fd6d8" stroke-width="1.9" stroke-linejoin="round" stroke-linecap="butt" />
</g>
<rect x="456.6" y="100.8" width="53.6" height="10.6" fill="#fff"/><text x="458.6" y="108.6" font-size="9.5" fill="#262626" textLength="49.6" lengthAdjust="spacingAndGlyphs" stroke="#262626" stroke-width="0.2" >%Ro = 0,50</text>
<rect x="458.7" y="163.4" width="54.8" height="10.6" fill="#fff"/><text x="460.7" y="171.2" font-size="9.5" fill="#262626" textLength="50.8" lengthAdjust="spacingAndGlyphs" stroke="#262626" stroke-width="0.2" >%Ro = 0,85</text>
<rect x="463.0" y="184.0" width="49.0" height="10.6" fill="#fff"/><text x="465.0" y="191.8" font-size="9.5" fill="#262626" textLength="45" lengthAdjust="spacingAndGlyphs" stroke="#262626" stroke-width="0.2" >%Ro = 1,0</text>
<rect x="456.6" y="193.8" width="47.4" height="10.6" fill="#fff"/><text x="458.6" y="201.6" font-size="9.5" fill="#262626" textLength="43.4" lengthAdjust="spacingAndGlyphs" stroke="#262626" stroke-width="0.2" >%Ro = 1,1</text>
<rect x="471.0" y="218.3" width="48.0" height="10.6" fill="#fff"/><text x="473.0" y="226.1" font-size="9.5" fill="#262626" textLength="44" lengthAdjust="spacingAndGlyphs" stroke="#262626" stroke-width="0.2" >%Ro = 1,3</text>
<text x="465.0" y="280.0" font-size="9.5" fill="#262626" textLength="44" lengthAdjust="spacingAndGlyphs" stroke="#262626" stroke-width="0.2" >%Ro = 2,0</text>
<rect x="35" y="282" width="12" height="11" fill="#fff"/>
<text x="36.3" y="291.3" font-size="11.5" fill="#111" font-weight="bold" stroke="#111" stroke-width="0.18" >a)</text>
<rect x="20.6" y="11.9" width="498.0" height="291.1" fill="none" stroke="#333" stroke-width="1.4"/>
<line x1="67.2" y1="8.6" x2="67.2" y2="11.5" stroke="#6a6ad8" stroke-width="0.9"/>
<text x="66.8" y="8.6" font-size="5.8" fill="#333" text-anchor="middle" stroke="#333" stroke-width="0.18" >12,0</text>
<line x1="112.4" y1="8.6" x2="112.4" y2="11.5" stroke="#6a6ad8" stroke-width="0.9"/>
<text x="112.0" y="8.6" font-size="5.8" fill="#333" text-anchor="middle" stroke="#333" stroke-width="0.18" >13,0</text>
<line x1="157.6" y1="8.6" x2="157.6" y2="11.5" stroke="#6a6ad8" stroke-width="0.9"/>
<text x="157.2" y="8.6" font-size="5.8" fill="#333" text-anchor="middle" stroke="#333" stroke-width="0.18" >14,0</text>
<line x1="202.7" y1="8.6" x2="202.7" y2="11.5" stroke="#6a6ad8" stroke-width="0.9"/>
<text x="202.3" y="8.6" font-size="5.8" fill="#333" text-anchor="middle" stroke="#333" stroke-width="0.18" >15,0</text>
<line x1="247.9" y1="8.6" x2="247.9" y2="11.5" stroke="#6a6ad8" stroke-width="0.9"/>
<text x="247.5" y="8.6" font-size="5.8" fill="#333" text-anchor="middle" stroke="#333" stroke-width="0.18" >16,0</text>
<line x1="293.1" y1="8.6" x2="293.1" y2="11.5" stroke="#6a6ad8" stroke-width="0.9"/>
<text x="292.7" y="8.6" font-size="5.8" fill="#333" text-anchor="middle" stroke="#333" stroke-width="0.18" >17,0</text>
<line x1="338.3" y1="8.6" x2="338.3" y2="11.5" stroke="#6a6ad8" stroke-width="0.9"/>
<text x="337.9" y="8.6" font-size="5.8" fill="#333" text-anchor="middle" stroke="#333" stroke-width="0.18" >18,0</text>
<line x1="383.5" y1="8.6" x2="383.5" y2="11.5" stroke="#6a6ad8" stroke-width="0.9"/>
<text x="383.1" y="8.6" font-size="5.8" fill="#333" text-anchor="middle" stroke="#333" stroke-width="0.18" >19,0</text>
<line x1="428.6" y1="8.6" x2="428.6" y2="11.5" stroke="#6a6ad8" stroke-width="0.9"/>
<text x="428.2" y="8.6" font-size="5.8" fill="#333" text-anchor="middle" stroke="#333" stroke-width="0.18" >20,0</text>
<line x1="473.8" y1="8.6" x2="473.8" y2="11.5" stroke="#6a6ad8" stroke-width="0.9"/>
<text x="473.4" y="8.6" font-size="5.8" fill="#333" text-anchor="middle" stroke="#333" stroke-width="0.18" >21,0</text>
<text x="491.0" y="9.5" font-size="5.6" fill="#333" stroke="#333" stroke-width="0.18" >Km</text>
<line x1="17.6" y1="29.8" x2="20.6" y2="29.8" stroke="#444" stroke-width="0.8"/>
<text x="16.0" y="32.1" font-size="6.4" fill="#2a2a2a" text-anchor="end" textLength="8.2" lengthAdjust="spacingAndGlyphs" stroke="#2a2a2a" stroke-width="0.18" >0,0</text>
<line x1="17.6" y1="46.8" x2="20.6" y2="46.8" stroke="#444" stroke-width="0.8"/>
<text x="16.0" y="49.1" font-size="6.4" fill="#2a2a2a" text-anchor="end" textLength="8.2" lengthAdjust="spacingAndGlyphs" stroke="#2a2a2a" stroke-width="0.18" >0,5</text>
<line x1="17.6" y1="63.7" x2="20.6" y2="63.7" stroke="#444" stroke-width="0.8"/>
<text x="16.0" y="66.0" font-size="6.4" fill="#2a2a2a" text-anchor="end" textLength="8.2" lengthAdjust="spacingAndGlyphs" stroke="#2a2a2a" stroke-width="0.18" >1,0</text>
<line x1="17.6" y1="80.7" x2="20.6" y2="80.7" stroke="#444" stroke-width="0.8"/>
<text x="16.0" y="83.0" font-size="6.4" fill="#2a2a2a" text-anchor="end" textLength="8.2" lengthAdjust="spacingAndGlyphs" stroke="#2a2a2a" stroke-width="0.18" >1,5</text>
<line x1="17.6" y1="97.6" x2="20.6" y2="97.6" stroke="#444" stroke-width="0.8"/>
<text x="16.0" y="99.9" font-size="6.4" fill="#2a2a2a" text-anchor="end" textLength="8.2" lengthAdjust="spacingAndGlyphs" stroke="#2a2a2a" stroke-width="0.18" >2,0</text>
<line x1="17.6" y1="114.6" x2="20.6" y2="114.6" stroke="#444" stroke-width="0.8"/>
<text x="16.0" y="116.9" font-size="6.4" fill="#2a2a2a" text-anchor="end" textLength="8.2" lengthAdjust="spacingAndGlyphs" stroke="#2a2a2a" stroke-width="0.18" >2,5</text>
<line x1="17.6" y1="131.6" x2="20.6" y2="131.6" stroke="#444" stroke-width="0.8"/>
<text x="16.0" y="133.9" font-size="6.4" fill="#2a2a2a" text-anchor="end" textLength="8.2" lengthAdjust="spacingAndGlyphs" stroke="#2a2a2a" stroke-width="0.18" >3,0</text>
<line x1="17.6" y1="148.5" x2="20.6" y2="148.5" stroke="#444" stroke-width="0.8"/>
<text x="16.0" y="150.8" font-size="6.4" fill="#2a2a2a" text-anchor="end" textLength="8.2" lengthAdjust="spacingAndGlyphs" stroke="#2a2a2a" stroke-width="0.18" >3,5</text>
<line x1="17.6" y1="165.5" x2="20.6" y2="165.5" stroke="#444" stroke-width="0.8"/>
<text x="16.0" y="167.8" font-size="6.4" fill="#2a2a2a" text-anchor="end" textLength="8.2" lengthAdjust="spacingAndGlyphs" stroke="#2a2a2a" stroke-width="0.18" >4,0</text>
<line x1="17.6" y1="182.4" x2="20.6" y2="182.4" stroke="#444" stroke-width="0.8"/>
<text x="16.0" y="184.7" font-size="6.4" fill="#2a2a2a" text-anchor="end" textLength="8.2" lengthAdjust="spacingAndGlyphs" stroke="#2a2a2a" stroke-width="0.18" >4,5</text>
<line x1="17.6" y1="199.4" x2="20.6" y2="199.4" stroke="#444" stroke-width="0.8"/>
<text x="16.0" y="201.7" font-size="6.4" fill="#2a2a2a" text-anchor="end" textLength="8.2" lengthAdjust="spacingAndGlyphs" stroke="#2a2a2a" stroke-width="0.18" >5,0</text>
<line x1="17.6" y1="216.4" x2="20.6" y2="216.4" stroke="#444" stroke-width="0.8"/>
<text x="16.0" y="218.7" font-size="6.4" fill="#2a2a2a" text-anchor="end" textLength="8.2" lengthAdjust="spacingAndGlyphs" stroke="#2a2a2a" stroke-width="0.18" >5,5</text>
<line x1="17.6" y1="233.3" x2="20.6" y2="233.3" stroke="#444" stroke-width="0.8"/>
<text x="16.0" y="235.6" font-size="6.4" fill="#2a2a2a" text-anchor="end" textLength="8.2" lengthAdjust="spacingAndGlyphs" stroke="#2a2a2a" stroke-width="0.18" >6,0</text>
<line x1="17.6" y1="250.3" x2="20.6" y2="250.3" stroke="#444" stroke-width="0.8"/>
<text x="16.0" y="252.6" font-size="6.4" fill="#2a2a2a" text-anchor="end" textLength="8.2" lengthAdjust="spacingAndGlyphs" stroke="#2a2a2a" stroke-width="0.18" >6,5</text>
<line x1="17.6" y1="267.2" x2="20.6" y2="267.2" stroke="#444" stroke-width="0.8"/>
<text x="16.0" y="269.5" font-size="6.4" fill="#2a2a2a" text-anchor="end" textLength="8.2" lengthAdjust="spacingAndGlyphs" stroke="#2a2a2a" stroke-width="0.18" >7,0</text>
<line x1="17.6" y1="284.2" x2="20.6" y2="284.2" stroke="#444" stroke-width="0.8"/>
<text x="16.0" y="286.5" font-size="6.4" fill="#2a2a2a" text-anchor="end" textLength="8.2" lengthAdjust="spacingAndGlyphs" stroke="#2a2a2a" stroke-width="0.18" >7,5</text>
<line x1="17.6" y1="301.2" x2="20.6" y2="301.2" stroke="#444" stroke-width="0.8"/>
<text x="16.0" y="303.5" font-size="6.4" fill="#2a2a2a" text-anchor="end" textLength="8.2" lengthAdjust="spacingAndGlyphs" stroke="#2a2a2a" stroke-width="0.18" >8,0</text>
<text x="15.8" y="295.4" font-size="5.0" fill="#333" text-anchor="end" stroke="#333" stroke-width="0.18" >Km</text>
<rect x="22.4" y="15.3" width="264.6" height="55.2" fill="#fff" stroke="#cfcfcf" stroke-width="0.8"/>
<line x1="148" y1="15.5" x2="148" y2="70.3" stroke="#d0d0d0" stroke-width="0.8"/>
<text x="25.8" y="29.0" font-size="13" fill="#111" textLength="43" lengthAdjust="spacingAndGlyphs" stroke="#111" stroke-width="0.18" >No Salt</text>
<rect x="26.5" y="38.2" width="13.2" height="12.2" fill="#b9f7d3"/>
<rect x="26.5" y="51.6" width="13.2" height="12.2" fill="#fdc0c0"/>
<line x1="26.5" y1="37.4" x2="39.7" y2="37.4" stroke="#3ae0ee" stroke-width="1.6"/>
<line x1="26.5" y1="51.1" x2="39.7" y2="51.1" stroke="#e83838" stroke-width="1.3"/>
<line x1="26.5" y1="64.3" x2="39.7" y2="64.3" stroke="#2a2ae0" stroke-width="1.2"/>
<text x="43.9" y="46.7" font-size="7.8" fill="#222" textLength="37.8" lengthAdjust="spacingAndGlyphs" stroke="#222" stroke-width="0.18" >Oil window</text>
<text x="43.9" y="62.0" font-size="7.8" fill="#222" textLength="43" lengthAdjust="spacingAndGlyphs" stroke="#222" stroke-width="0.18" >Gas window</text>
<line x1="93.6" y1="19.4" x2="117.8" y2="19.4" stroke="#40eef0" stroke-width="1.6"/>
<text x="120.5" y="21.3" font-size="5.3" fill="#444" stroke="#444" stroke-width="0.18" >%Ro=0,5</text>
<line x1="93.6" y1="27.3" x2="117.8" y2="27.3" stroke="#44e044" stroke-width="1.6"/>
<text x="120.5" y="29.2" font-size="5.3" fill="#444" stroke="#444" stroke-width="0.18" >%Ro=0,85</text>
<line x1="93.6" y1="35.3" x2="117.8" y2="35.3" stroke="#ee3333" stroke-width="1.6"/>
<text x="120.5" y="37.2" font-size="5.3" fill="#444" stroke="#444" stroke-width="0.18" >%Ro=1,0</text>
<line x1="93.6" y1="43.2" x2="117.8" y2="43.2" stroke="#f5ec10" stroke-width="1.6"/>
<text x="120.5" y="45.1" font-size="5.3" fill="#444" stroke="#444" stroke-width="0.18" >%Ro=1,1</text>
<line x1="93.6" y1="51.2" x2="117.8" y2="51.2" stroke="#4848ee" stroke-width="1.6"/>
<text x="120.5" y="53.1" font-size="5.3" fill="#444" stroke="#444" stroke-width="0.18" >%Ro=1,3</text>
<line x1="93.6" y1="59.1" x2="117.8" y2="59.1" stroke="#3f8f3f" stroke-width="1.6"/>
<text x="120.5" y="61.0" font-size="5.3" fill="#444" stroke="#444" stroke-width="0.18" >%Ro=2,0</text>
<line x1="93.6" y1="67.1" x2="117.8" y2="67.1" stroke="#e040d8" stroke-width="1.6"/>
<text x="120.5" y="69.0" font-size="5.3" fill="#444" stroke="#444" stroke-width="0.18" >%Ro=3,0</text>
<text x="159.4" y="29.2" font-size="13" fill="#111" textLength="61.2" lengthAdjust="spacingAndGlyphs" stroke="#111" stroke-width="0.18" >Salt model</text>
<rect x="152" y="38.8" width="13.4" height="11.6" fill="url(#hL)"/>
<rect x="152" y="52" width="13.4" height="12" fill="url(#hL)"/>
<line x1="152" y1="37.8" x2="165.4" y2="37.8" stroke="#40e8f0" stroke-width="1.4" stroke-dasharray="1.6 1.1"/>
<line x1="152" y1="51" x2="165.4" y2="51" stroke="#ee3333" stroke-width="1.4" stroke-dasharray="1.6 1.1"/>
<line x1="152" y1="64.8" x2="165.4" y2="64.8" stroke="#4040ee" stroke-width="1.4" stroke-dasharray="1.6 1.1"/>
<text x="170.7" y="46.8" font-size="7.8" fill="#222" textLength="37.8" lengthAdjust="spacingAndGlyphs" stroke="#222" stroke-width="0.18" >Oil window</text>
<text x="170.7" y="61.9" font-size="7.8" fill="#222" textLength="43" lengthAdjust="spacingAndGlyphs" stroke="#222" stroke-width="0.18" >Gas window</text>
<line x1="233.6" y1="19.4" x2="259" y2="19.4" stroke="#40eef0" stroke-width="1.5" stroke-dasharray="3 2"/>
<text x="261.6" y="21.3" font-size="5.3" fill="#444" stroke="#444" stroke-width="0.18" >%Ro=0,5</text>
<line x1="233.6" y1="27.3" x2="259" y2="27.3" stroke="#44e044" stroke-width="1.5" stroke-dasharray="3 2"/>
<text x="261.6" y="29.2" font-size="5.3" fill="#444" stroke="#444" stroke-width="0.18" >%Ro=0,85</text>
<line x1="233.6" y1="35.3" x2="259" y2="35.3" stroke="#ee3333" stroke-width="1.5" stroke-dasharray="3 2"/>
<text x="261.6" y="37.2" font-size="5.3" fill="#444" stroke="#444" stroke-width="0.18" >%Ro=1,0</text>
<line x1="233.6" y1="43.2" x2="259" y2="43.2" stroke="#f5ec10" stroke-width="1.5" stroke-dasharray="3 2"/>
<text x="261.6" y="45.1" font-size="5.3" fill="#444" stroke="#444" stroke-width="0.18" >%Ro=1,1</text>
<line x1="233.6" y1="51.2" x2="259" y2="51.2" stroke="#4848ee" stroke-width="1.5" stroke-dasharray="3 2"/>
<text x="261.6" y="53.1" font-size="5.3" fill="#444" stroke="#444" stroke-width="0.18" >%Ro=1,3</text>
<line x1="233.6" y1="59.1" x2="259" y2="59.1" stroke="#3f8f3f" stroke-width="1.5" stroke-dasharray="3 2"/>
<text x="261.6" y="61.0" font-size="5.3" fill="#444" stroke="#444" stroke-width="0.18" >%Ro=2,0</text>
<line x1="233.6" y1="67.1" x2="259" y2="67.1" stroke="#e040d8" stroke-width="1.5" stroke-dasharray="3 2"/>
<text x="261.6" y="69.0" font-size="5.3" fill="#444" stroke="#444" stroke-width="0.18" >%Ro=3,0</text>
<defs>
<clipPath id="cSed"><polygon points="18.0,495.7 24.2,494.5 33.6,498.0 45.5,507.5 53.7,510.5 62.0,502.7 66.7,491.0 70.3,462.6 73.4,454.3 77.4,462.6 79.7,488.6 85.7,512.2 95.0,518.1 109.3,519.3 114.0,509.8 116.4,486.0 120.3,464.0 122.3,446.0 125.0,430.0 128.0,417.8 134.8,410.3 137.8,408.0 142.4,411.8 150.0,422.4 156.0,434.5 158.2,443.5 159.8,455.0 164.0,471.4 168.3,500.5 172.7,515.0 181.4,522.3 193.0,523.7 207.6,522.3 214.8,512.0 217.7,491.7 220.6,465.6 222.0,448.0 224.0,440.0 226.6,436.7 232.4,437.3 236.8,447.5 239.7,472.2 242.6,501.3 247.0,524.5 258.6,527.4 284.8,527.4 291.0,522.0 293.5,505.0 296.5,490.0 301.0,475.0 305.5,463.0 309.0,456.5 315.0,455.0 321.5,456.5 325.5,466.0 328.5,480.0 331.5,497.0 334.6,503.6 358.0,503.0 397.5,502.7 404.8,498.4 411.0,484.0 416.4,470.0 420.0,455.0 422.5,440.0 425.5,425.0 428.5,410.0 431.5,395.0 433.5,381.0 435.3,370.0 438.5,363.2 441.5,364.5 444.5,371.0 447.0,380.0 449.5,392.0 452.5,410.0 456.0,430.0 459.5,445.0 463.5,460.0 467.8,471.8 473.7,483.6 480.4,489.5 485.0,491.5 500.0,493.0 523.0,493.0 523,329 18,329"/></clipPath>
<clipPath id="cBCB"><polygon points="18.5,388.9 100.0,388.9 300.0,389.4 400.0,389.8 424.4,386.3 448.8,385.9 463.4,387.6 485.4,387.0 523.0,387.6 523.0,461.0 480.0,462.6 465.0,461.0 450.0,459.6 448.5,456.6 435.0,460.0 419.3,463.0 400.0,465.5 380.0,463.8 365.0,466.0 340.0,467.2 318.2,466.5 300.9,467.3 275.0,469.6 258.6,469.9 240.0,469.0 158.0,468.0 130.0,467.3 104.6,467.8 81.0,466.3 75.0,466.0 54.7,463.9 32.0,460.5 18.5,458.2"/></clipPath>
<pattern id="bS" width="4.6" height="4.6" patternUnits="userSpaceOnUse" patternTransform="rotate(52)"><rect y="0" width="4.6" height="1.3" fill="#ffffff" fill-opacity="0.36"/></pattern>
</defs>
<g clip-path="url(#cB)">
<polygon points="18.5,388.9 100.0,388.9 300.0,389.4 400.0,389.8 424.4,386.3 448.8,385.9 463.4,387.6 485.4,387.0 523.0,387.6 523.0,440.0 495.0,440.7 471.0,443.0 462.0,447.6 450.0,446.7 416.4,447.5 393.1,443.1 364.0,444.6 326.8,447.3 309.5,448.5 275.0,449.0 244.0,447.8 201.7,447.2 158.0,447.5 150.0,450.0 140.0,451.0 130.0,450.3 120.3,448.7 104.6,447.2 81.0,444.8 45.5,443.6 18.5,445.5" fill="#b2f4c9"/>
<polygon points="18.5,445.5 45.5,443.6 81.0,444.8 104.6,447.2 120.3,448.7 130.0,450.3 140.0,451.0 150.0,450.0 158.0,447.5 201.7,447.2 244.0,447.8 275.0,449.0 309.5,448.5 326.8,447.3 364.0,444.6 393.1,443.1 416.4,447.5 450.0,446.7 462.0,447.6 471.0,443.0 495.0,440.7 523.0,440.0 523.0,461.0 480.0,462.6 465.0,461.0 450.0,459.6 448.5,456.6 435.0,460.0 419.3,463.0 400.0,465.5 380.0,463.8 365.0,466.0 340.0,467.2 318.2,466.5 300.9,467.3 275.0,469.6 258.6,469.9 240.0,469.0 158.0,468.0 130.0,467.3 104.6,467.8 81.0,466.3 75.0,466.0 54.7,463.9 32.0,460.5 18.5,458.2" fill="#f7c2c2"/>
<g clip-path="url(#cSed)"><g clip-path="url(#cBCB)"><rect x="18" y="380" width="506" height="100" fill="url(#bS)"/></g></g>
<g clip-path="url(#cSed)">
<polygon points="19.5,457.4 37.7,460.4 54.7,462.9 68.3,464.3 68.3,469.6 54.7,471.3 37.7,469.0 19.5,466.7" fill="url(#bX)"/>
<polygon points="78.6,465.2 85.7,465.6 99.8,466.5 111.7,466.7 118.7,466.5 118.7,469.6 111.7,473.9 99.8,474.8 85.7,470.8 78.6,467.3" fill="url(#bX)"/>
<polygon points="165.4,467.1 175.6,467.2 190.0,467.4 207.6,467.6 217.7,467.7 217.7,470.0 207.6,476.6 190.0,477.8 175.6,475.8 165.4,470.0" fill="url(#bX)"/>
<polygon points="237.3,468.0 249.2,468.4 262.0,468.8 275.0,468.6 289.0,467.4 300.0,466.4 300.0,470.5 289.0,474.6 275.0,477.0 262.0,476.0 249.2,474.0 237.3,470.6" fill="url(#bX)"/>
<polygon points="326.8,465.8 335.4,466.1 364.0,465.0 393.1,463.9 410.6,463.1 410.6,471.6 393.1,475.1 364.0,476.6 335.4,473.4 326.8,469.0" fill="url(#bX)"/>
<polygon points="466.5,460.2 477.0,461.3 501.0,460.8 523.0,460.0 523.0,472.5 501.0,474.6 477.0,473.0 466.5,470.0" fill="url(#bX)"/>
</g>
<path d="M18.0,495.7 L24.2,494.5 L33.6,498.0 L45.5,507.5 L53.7,510.5 L62.0,502.7 L66.7,491.0 L70.3,462.6 L73.4,454.3 L77.4,462.6 L79.7,488.6 L85.7,512.2 L95.0,518.1 L109.3,519.3 L114.0,509.8 L116.4,486.0 L120.3,464.0 L122.3,446.0 L125.0,430.0 L128.0,417.8 L134.8,410.3 L137.8,408.0 L142.4,411.8 L150.0,422.4 L156.0,434.5 L158.2,443.5 L159.8,455.0 L164.0,471.4 L168.3,500.5 L172.7,515.0 L181.4,522.3 L193.0,523.7 L207.6,522.3 L214.8,512.0 L217.7,491.7 L220.6,465.6 L222.0,448.0 L224.0,440.0 L226.6,436.7 L232.4,437.3 L236.8,447.5 L239.7,472.2 L242.6,501.3 L247.0,524.5 L258.6,527.4 L284.8,527.4 L291.0,522.0 L293.5,505.0 L296.5,490.0 L301.0,475.0 L305.5,463.0 L309.0,456.5 L315.0,455.0 L321.5,456.5 L325.5,466.0 L328.5,480.0 L331.5,497.0 L334.6,503.6 L358.0,503.0 L397.5,502.7 L404.8,498.4 L411.0,484.0 L416.4,470.0 L420.0,455.0 L422.5,440.0 L425.5,425.0 L428.5,410.0 L431.5,395.0 L433.5,381.0 L435.3,370.0 L438.5,363.2 L441.5,364.5 L444.5,371.0 L447.0,380.0 L449.5,392.0 L452.5,410.0 L456.0,430.0 L459.5,445.0 L463.5,460.0 L467.8,471.8 L473.7,483.6 L480.4,489.5 L485.0,491.5 L500.0,493.0 L523.0,493.0" fill="none" stroke="#b8c4e8" stroke-width="0.8" stroke-linejoin="round" stroke-linecap="butt" />
<path d="M18.5,497.5 L28.9,499.2 L40.7,501.0 L47.8,503.9 L57.3,505.6 L81.0,507.0 L128.2,507.0 L143.6,506.3 L178.5,507.7 L210.5,509.8 L258.6,510.0 L309.5,507.6 L345.0,507.1 L378.6,506.5" fill="none" stroke="#e020d0" stroke-width="1.6" stroke-linejoin="round" stroke-linecap="butt" />
<path d="M18.5,488.0 L33.6,489.3 L47.8,493.3 L64.4,495.2" fill="none" stroke="#1f801f" stroke-width="1.5" stroke-linejoin="round" stroke-linecap="butt" stroke-dasharray="3.5 2.5" />
<path d="M82.1,494.5 L90.4,498.0 L114.0,499.9" fill="none" stroke="#1f801f" stroke-width="1.5" stroke-linejoin="round" stroke-linecap="butt" stroke-dasharray="3.5 2.5" />
<path d="M168.3,497.6 L172.7,500.5 L196.0,501.3 L214.8,499.9" fill="none" stroke="#1f801f" stroke-width="1.5" stroke-linejoin="round" stroke-linecap="butt" stroke-dasharray="3.5 2.5" />
<path d="M244.0,499.8 L273.1,499.8 L292.3,498.4" fill="none" stroke="#1f801f" stroke-width="1.5" stroke-linejoin="round" stroke-linecap="butt" stroke-dasharray="3.5 2.5" />
<path d="M332.0,496.7 L355.0,495.8 L393.1,496.9 L397.5,498.4" fill="none" stroke="#1f801f" stroke-width="1.5" stroke-linejoin="round" stroke-linecap="butt" stroke-dasharray="3.5 2.5" />
<path d="M18.5,481.0 L33.6,482.0 L57.3,487.4 L81.0,489.3 L104.6,490.0 L129.0,489.4 L172.7,490.3 L215.0,493.1 L273.1,492.6 L309.5,490.6 L355.0,489.8 L393.1,487.3 L422.2,482.4 L441.0,476.7 L450.0,479.0 L465.0,482.7 L480.0,485.1 L523.0,486.6" fill="none" stroke="#1f801f" stroke-width="1.5" stroke-linejoin="round" stroke-linecap="butt" />
<path d="M19.5,466.7 L37.7,469.0 L54.7,471.3 L68.3,469.6" fill="none" stroke="#2222ee" stroke-width="1.5" stroke-linejoin="round" stroke-linecap="butt" stroke-dasharray="1.4 1.3" />
<path d="M78.6,467.3 L85.7,470.8 L99.8,474.8 L111.7,473.9 L118.7,469.6" fill="none" stroke="#2222ee" stroke-width="1.5" stroke-linejoin="round" stroke-linecap="butt" stroke-dasharray="1.4 1.3" />
<path d="M165.4,470.0 L175.6,475.8 L190.0,477.8 L207.6,476.6 L217.7,470.0" fill="none" stroke="#2222ee" stroke-width="1.5" stroke-linejoin="round" stroke-linecap="butt" stroke-dasharray="1.4 1.3" />
<path d="M237.3,470.6 L249.2,474.0 L262.0,476.0 L275.0,477.0 L289.0,474.6 L300.0,470.5" fill="none" stroke="#2222ee" stroke-width="1.5" stroke-linejoin="round" stroke-linecap="butt" stroke-dasharray="1.4 1.3" />
<path d="M326.8,469.0 L335.4,473.4 L364.0,476.6 L393.1,475.1 L410.6,471.6" fill="none" stroke="#2222ee" stroke-width="1.5" stroke-linejoin="round" stroke-linecap="butt" stroke-dasharray="1.4 1.3" />
<path d="M466.5,470.0 L477.0,473.0 L501.0,474.6 L523.0,472.5" fill="none" stroke="#2222ee" stroke-width="1.5" stroke-linejoin="round" stroke-linecap="butt" stroke-dasharray="1.4 1.3" />
<path d="M18.5,458.2 L32.0,460.5 L54.7,463.9 L75.0,466.0 L81.0,466.3 L104.6,467.8 L130.0,467.3 L158.0,468.0 L240.0,469.0 L258.6,469.9 L275.0,469.6 L300.9,467.3 L318.2,466.5 L340.0,467.2 L365.0,466.0 L380.0,463.8 L400.0,465.5 L419.3,463.0 L435.0,460.0 L448.5,456.6 L450.0,459.6 L465.0,461.0 L480.0,462.6 L523.0,461.0" fill="none" stroke="#2222ee" stroke-width="1.6" stroke-linejoin="round" stroke-linecap="butt" />
<g clip-path="url(#cSed)"><path d="M18.5,457.0 L43.0,459.4 L55.0,458.2 L66.0,454.8 L73.8,454.3 L104.6,457.8 L161.0,455.4 L175.6,459.8 L196.0,461.2 L216.3,456.9 L238.0,457.5 L248.0,460.5 L258.0,462.8 L275.0,463.3 L290.0,460.5 L300.0,457.5 L306.0,455.5 L323.4,456.1 L332.0,460.4 L355.0,462.1 L393.1,461.2 L422.2,460.0 L440.0,457.0 L462.0,459.6 L480.0,461.7 L523.0,460.5" fill="none" stroke="#f5e400" stroke-width="1.5" stroke-linejoin="round" stroke-linecap="butt" stroke-dasharray="1.4 1.3" /></g>
<path d="M18.5,452.0 L45.5,452.0 L73.8,453.1 L99.8,457.8 L158.0,458.3 L200.0,457.5 L236.0,456.7 L246.6,460.0 L255.8,462.5 L275.0,463.0 L291.6,460.0 L302.0,456.7 L309.5,453.0 L326.8,454.4 L345.0,452.6 L380.0,451.8 L400.0,452.2 L420.0,453.5 L450.0,451.5 L465.0,452.0 L480.0,449.7 L523.0,448.5" fill="none" stroke="#f5e400" stroke-width="1.6" stroke-linejoin="round" stroke-linecap="butt" />
<g clip-path="url(#cSed)"><path d="M18.5,453.1 L32.0,453.7 L49.0,452.0 L66.0,448.6 L75.6,447.3 L91.5,450.6 L107.3,451.9 L115.3,449.9 L120.6,447.9 L137.0,445.0 L159.6,448.0 L178.5,454.0 L196.0,454.5 L213.4,451.0 L219.2,445.2 L236.0,448.8 L246.6,452.8 L262.5,456.1 L275.7,456.7 L291.6,453.4 L302.0,449.5 L306.0,449.0 L314.7,446.0 L320.0,447.5 L332.0,452.6 L344.0,454.7 L378.6,454.8 L410.6,452.4 L419.3,449.5 L440.0,447.0 L462.0,452.0 L480.0,454.5 L523.0,453.6" fill="none" stroke="#ee1111" stroke-width="1.5" stroke-linejoin="round" stroke-linecap="butt" stroke-dasharray="1.4 1.3" /></g>
<path d="M18.5,445.5 L45.5,443.6 L81.0,444.8 L104.6,447.2 L120.3,448.7 L130.0,450.3 L140.0,451.0 L150.0,450.0 L158.0,447.5 L201.7,447.2 L244.0,447.8 L275.0,449.0 L309.5,448.5 L326.8,447.3 L364.0,444.6 L393.1,443.1 L416.4,447.5 L450.0,446.7 L462.0,447.6 L471.0,443.0 L495.0,440.7 L523.0,440.0" fill="none" stroke="#ee1111" stroke-width="1.7" stroke-linejoin="round" stroke-linecap="butt" />
<g clip-path="url(#cSed)"><path d="M18.5,441.3 L45.5,437.7 L73.8,434.2 L99.8,437.0 L121.0,433.0 L137.0,431.0 L153.8,430.7 L166.9,435.0 L187.2,438.0 L200.0,439.0 L210.5,437.5 L219.3,435.3 L222.0,434.5 L232.4,433.0 L236.0,434.3 L249.2,438.2 L269.0,441.5 L289.0,439.6 L302.0,435.0 L310.0,433.0 L326.8,435.4 L344.0,438.8 L378.6,439.7 L407.7,436.7 L425.0,435.0 L459.0,435.6 L480.0,438.6 L523.0,438.0" fill="none" stroke="#22e022" stroke-width="1.5" stroke-linejoin="round" stroke-linecap="butt" stroke-dasharray="1.4 1.3" /></g>
<path d="M18.5,430.6 L81.0,429.5 L121.0,433.0 L137.8,433.0 L172.7,435.0 L215.0,433.8 L258.6,434.4 L302.0,433.0 L345.0,431.5 L393.0,430.0 L422.0,433.0 L459.0,434.0 L480.0,429.5 L504.0,427.4 L523.0,426.5" fill="none" stroke="#22e022" stroke-width="1.7" stroke-linejoin="round" stroke-linecap="butt" />
<g clip-path="url(#cSed)"><path d="M18.5,390.4 L100.0,390.3 L110.0,389.0 L117.0,387.4 L137.4,385.7 L163.0,387.4 L172.0,389.5 L185.0,390.5 L300.0,391.0 L400.0,391.2 L431.7,383.4 L448.8,383.4 L463.4,388.8 L473.0,391.2 L523.0,392.2" fill="none" stroke="#30e0e6" stroke-width="1.3" stroke-linejoin="round" stroke-linecap="butt" stroke-dasharray="1.4 1.3" /></g>
<path d="M18.5,388.9 L100.0,388.9 L300.0,389.4 L400.0,389.8 L424.4,386.3 L448.8,385.9 L463.4,387.6 L485.4,387.0 L523.0,387.6" fill="none" stroke="#2ee6ea" stroke-width="1.7" stroke-linejoin="round" stroke-linecap="butt" />
</g>
<text x="299.3" y="393.7" font-size="7.2" fill="#222" textLength="32.0" lengthAdjust="spacingAndGlyphs" stroke="#222" stroke-width="0.22" >%Ro=0,5</text>
<text x="251.3" y="434.4" font-size="7.2" fill="#222" textLength="37.7" lengthAdjust="spacingAndGlyphs" stroke="#222" stroke-width="0.22" >%Ro =0,85</text>
<text x="254.2" y="448.4" font-size="7.2" fill="#222" textLength="34.8" lengthAdjust="spacingAndGlyphs" stroke="#222" stroke-width="0.22" >%Ro =1,0</text>
<text x="255.7" y="465.0" font-size="7.2" fill="#222" textLength="32.0" lengthAdjust="spacingAndGlyphs" stroke="#222" stroke-width="0.22" >%Ro=1,1</text>
<rect x="302" y="469" width="36" height="8" fill="#fff"/>
<text x="303.5" y="476.0" font-size="7.2" fill="#222" textLength="33.3" lengthAdjust="spacingAndGlyphs" stroke="#222" stroke-width="0.22" >%Ro =1,3</text>
<rect x="297" y="491" width="34" height="6.5" fill="#fff"/>
<text x="298.3" y="496.2" font-size="7.2" fill="#222" textLength="31.7" lengthAdjust="spacingAndGlyphs" stroke="#222" stroke-width="0.22" >%Ro=2,0</text>
<text x="251.3" y="518.1" font-size="7.2" fill="#222" textLength="32.0" lengthAdjust="spacingAndGlyphs" stroke="#222" stroke-width="0.22" >%Ro=3,0</text>
<path d="M264.4,528.0 L286.2,528.0" fill="none" stroke="#e020d0" stroke-width="1.3" stroke-linejoin="round" stroke-linecap="butt" stroke-dasharray="2.5 1.8" />
<text x="287.7" y="530.3" font-size="7.2" fill="#222" textLength="32.0" lengthAdjust="spacingAndGlyphs" stroke="#222" stroke-width="0.22" >%Ro=3,0</text>
<text x="487.6" y="493.5" font-size="7.2" fill="#222" textLength="33.0" lengthAdjust="spacingAndGlyphs" stroke="#222" stroke-width="0.22" >%Ro=2,0</text>
<rect x="190" y="455.7" width="2.3" height="6.8" fill="none" stroke="#444" stroke-width="0.6"/>
<text x="192.8" y="462.3" font-size="8.2" fill="#333" stroke="#333" stroke-width="0.18" >A</text>
<rect x="310.3" y="451.4" width="2" height="6.8" fill="none" stroke="#444" stroke-width="0.6"/>
<text x="314.8" y="457.9" font-size="8.6" fill="#222" stroke="#222" stroke-width="0.18" >B</text>
<text x="31.3" y="531.1" font-size="11.5" fill="#111" font-weight="bold" stroke="#111" stroke-width="0.18" >b)</text>
<rect x="17.6" y="329.0" width="506.1" height="212.5" fill="none" stroke="#555" stroke-width="1.3"/>
<text x="17.0" y="327.0" font-size="8.5" fill="#1a1a1a" text-anchor="middle" stroke="#1a1a1a" stroke-width="0.18" >0</text>
<text x="62.2" y="327.0" font-size="8.5" fill="#1a1a1a" text-anchor="middle" stroke="#1a1a1a" stroke-width="0.18" >5</text>
<text x="107.4" y="327.0" font-size="8.5" fill="#1a1a1a" text-anchor="middle" stroke="#1a1a1a" stroke-width="0.18" >10</text>
<text x="152.6" y="327.0" font-size="8.5" fill="#1a1a1a" text-anchor="middle" stroke="#1a1a1a" stroke-width="0.18" >15</text>
<text x="197.8" y="327.0" font-size="8.5" fill="#1a1a1a" text-anchor="middle" stroke="#1a1a1a" stroke-width="0.18" >20</text>
<text x="243.0" y="327.0" font-size="8.5" fill="#1a1a1a" text-anchor="middle" stroke="#1a1a1a" stroke-width="0.18" >25</text>
<text x="288.2" y="327.0" font-size="8.5" fill="#1a1a1a" text-anchor="middle" stroke="#1a1a1a" stroke-width="0.18" >30</text>
<text x="333.4" y="327.0" font-size="8.5" fill="#1a1a1a" text-anchor="middle" stroke="#1a1a1a" stroke-width="0.18" >35</text>
<text x="378.6" y="327.0" font-size="8.5" fill="#1a1a1a" text-anchor="middle" stroke="#1a1a1a" stroke-width="0.18" >40</text>
<text x="423.8" y="327.0" font-size="8.5" fill="#1a1a1a" text-anchor="middle" stroke="#1a1a1a" stroke-width="0.18" >45</text>
<text x="469.0" y="327.0" font-size="8.5" fill="#1a1a1a" text-anchor="middle" stroke="#1a1a1a" stroke-width="0.18" >50</text>
<text x="514.2" y="327.0" font-size="8.5" fill="#1a1a1a" text-anchor="middle" stroke="#1a1a1a" stroke-width="0.18" >55</text>
<text x="485.8" y="327.0" font-size="8.5" fill="#1a1a1a" textLength="11" lengthAdjust="spacingAndGlyphs" stroke="#1a1a1a" stroke-width="0.18" >Km</text>
<line x1="15.4" y1="329.3" x2="17.6" y2="329.3" stroke="#555" stroke-width="0.7"/>
<text x="15.1" y="332.1" font-size="7.8" fill="#1e1e1e" text-anchor="end" textLength="10.9" lengthAdjust="spacingAndGlyphs" stroke="#1e1e1e" stroke-width="0.18" >0,0</text>
<line x1="15.4" y1="344.0" x2="17.6" y2="344.0" stroke="#555" stroke-width="0.7"/>
<text x="15.1" y="346.8" font-size="7.8" fill="#1e1e1e" text-anchor="end" textLength="10.9" lengthAdjust="spacingAndGlyphs" stroke="#1e1e1e" stroke-width="0.18" >0,5</text>
<line x1="15.4" y1="358.7" x2="17.6" y2="358.7" stroke="#555" stroke-width="0.7"/>
<text x="15.1" y="361.5" font-size="7.8" fill="#1e1e1e" text-anchor="end" textLength="10.9" lengthAdjust="spacingAndGlyphs" stroke="#1e1e1e" stroke-width="0.18" >1,0</text>
<line x1="15.4" y1="373.4" x2="17.6" y2="373.4" stroke="#555" stroke-width="0.7"/>
<text x="15.1" y="376.2" font-size="7.8" fill="#1e1e1e" text-anchor="end" textLength="10.9" lengthAdjust="spacingAndGlyphs" stroke="#1e1e1e" stroke-width="0.18" >1,5</text>
<line x1="15.4" y1="388.1" x2="17.6" y2="388.1" stroke="#555" stroke-width="0.7"/>
<text x="15.1" y="390.9" font-size="7.8" fill="#1e1e1e" text-anchor="end" textLength="10.9" lengthAdjust="spacingAndGlyphs" stroke="#1e1e1e" stroke-width="0.18" >2,0</text>
<line x1="15.4" y1="402.8" x2="17.6" y2="402.8" stroke="#555" stroke-width="0.7"/>
<text x="15.1" y="405.6" font-size="7.8" fill="#1e1e1e" text-anchor="end" textLength="10.9" lengthAdjust="spacingAndGlyphs" stroke="#1e1e1e" stroke-width="0.18" >2,5</text>
<line x1="15.4" y1="417.5" x2="17.6" y2="417.5" stroke="#555" stroke-width="0.7"/>
<text x="15.1" y="420.3" font-size="7.8" fill="#1e1e1e" text-anchor="end" textLength="10.9" lengthAdjust="spacingAndGlyphs" stroke="#1e1e1e" stroke-width="0.18" >3,0</text>
<line x1="15.4" y1="432.2" x2="17.6" y2="432.2" stroke="#555" stroke-width="0.7"/>
<text x="15.1" y="435.0" font-size="7.8" fill="#1e1e1e" text-anchor="end" textLength="10.9" lengthAdjust="spacingAndGlyphs" stroke="#1e1e1e" stroke-width="0.18" >3,5</text>
<line x1="15.4" y1="446.9" x2="17.6" y2="446.9" stroke="#555" stroke-width="0.7"/>
<text x="15.1" y="449.7" font-size="7.8" fill="#1e1e1e" text-anchor="end" textLength="10.9" lengthAdjust="spacingAndGlyphs" stroke="#1e1e1e" stroke-width="0.18" >4,0</text>
<line x1="15.4" y1="461.6" x2="17.6" y2="461.6" stroke="#555" stroke-width="0.7"/>
<text x="15.1" y="464.4" font-size="7.8" fill="#1e1e1e" text-anchor="end" textLength="10.9" lengthAdjust="spacingAndGlyphs" stroke="#1e1e1e" stroke-width="0.18" >4,5</text>
<line x1="15.4" y1="476.3" x2="17.6" y2="476.3" stroke="#555" stroke-width="0.7"/>
<text x="15.1" y="479.1" font-size="7.8" fill="#1e1e1e" text-anchor="end" textLength="10.9" lengthAdjust="spacingAndGlyphs" stroke="#1e1e1e" stroke-width="0.18" >5,0</text>
<line x1="15.4" y1="491.0" x2="17.6" y2="491.0" stroke="#555" stroke-width="0.7"/>
<text x="15.1" y="493.8" font-size="7.8" fill="#1e1e1e" text-anchor="end" textLength="10.9" lengthAdjust="spacingAndGlyphs" stroke="#1e1e1e" stroke-width="0.18" >5,5</text>
<line x1="15.4" y1="505.7" x2="17.6" y2="505.7" stroke="#555" stroke-width="0.7"/>
<text x="15.1" y="508.5" font-size="7.8" fill="#1e1e1e" text-anchor="end" textLength="10.9" lengthAdjust="spacingAndGlyphs" stroke="#1e1e1e" stroke-width="0.18" >6,0</text>
<line x1="15.4" y1="520.4" x2="17.6" y2="520.4" stroke="#555" stroke-width="0.7"/>
<text x="15.1" y="523.2" font-size="7.8" fill="#1e1e1e" text-anchor="end" textLength="10.9" lengthAdjust="spacingAndGlyphs" stroke="#1e1e1e" stroke-width="0.18" >6,5</text>
<line x1="15.4" y1="535.1" x2="17.6" y2="535.1" stroke="#555" stroke-width="0.7"/>
<text x="15.1" y="537.9" font-size="7.8" fill="#1e1e1e" text-anchor="end" textLength="10.9" lengthAdjust="spacingAndGlyphs" stroke="#1e1e1e" stroke-width="0.18" >7,0</text>
<text x="16.6" y="545.2" font-size="7.4" fill="#222" text-anchor="end" stroke="#222" stroke-width="0.18" >Km</text>
<rect x="17.6" y="329" width="315.4" height="55.4" fill="#fff" stroke="#d0d0d0" stroke-width="0.8"/>
<line x1="175.5" y1="329.5" x2="175.5" y2="384" stroke="#d0d0d0" stroke-width="0.8"/>
<text x="21.5" y="343.1" font-size="12.4" fill="#111" textLength="78" lengthAdjust="spacingAndGlyphs" stroke="#111" stroke-width="0.18" >No salt model</text>
<rect x="25.9" y="351.3" width="12.9" height="12.7" fill="#1aef6a"/>
<rect x="25.9" y="366.7" width="12.9" height="12.9" fill="#f88080"/>
<text x="45.0" y="360.6" font-size="7.8" fill="#1a1a1a" textLength="37.4" lengthAdjust="spacingAndGlyphs" stroke="#1a1a1a" stroke-width="0.18" >Oil window</text>
<text x="45.0" y="376.0" font-size="7.8" fill="#1a1a1a" textLength="42.5" lengthAdjust="spacingAndGlyphs" stroke="#1a1a1a" stroke-width="0.18" >Gas window</text>
<line x1="105.2" y1="333.2" x2="140" y2="333.2" stroke="#40eef0" stroke-width="1.6"/>
<text x="143.5" y="335.1" font-size="5.15" fill="#333" stroke="#333" stroke-width="0.18" >%Ro=0,5</text>
<line x1="105.2" y1="341" x2="140" y2="341" stroke="#44e044" stroke-width="1.6"/>
<text x="143.5" y="342.9" font-size="5.15" fill="#333" stroke="#333" stroke-width="0.18" >%Ro=0,85</text>
<line x1="105.2" y1="349" x2="140" y2="349" stroke="#ee3333" stroke-width="1.6"/>
<text x="143.5" y="350.9" font-size="5.15" fill="#333" stroke="#333" stroke-width="0.18" >%Ro=1,0</text>
<line x1="105.2" y1="356.7" x2="140" y2="356.7" stroke="#f5ec10" stroke-width="1.6"/>
<text x="143.5" y="358.6" font-size="5.15" fill="#333" stroke="#333" stroke-width="0.18" >%Ro=1,1</text>
<line x1="105.2" y1="364.7" x2="140" y2="364.7" stroke="#4848ee" stroke-width="1.6"/>
<text x="143.5" y="366.6" font-size="5.15" fill="#333" stroke="#333" stroke-width="0.18" >%Ro=1,3</text>
<line x1="105.2" y1="372.5" x2="140" y2="372.5" stroke="#3f8f3f" stroke-width="1.6"/>
<text x="143.5" y="374.4" font-size="5.15" fill="#333" stroke="#333" stroke-width="0.18" >%Ro=2,0</text>
<line x1="105.2" y1="380.1" x2="140" y2="380.1" stroke="#d040d0" stroke-width="1.6"/>
<text x="143.5" y="382.0" font-size="5.15" fill="#333" stroke="#333" stroke-width="0.18" >%Ro=3,0</text>
<text x="180.0" y="342.7" font-size="12.4" fill="#111" textLength="60" lengthAdjust="spacingAndGlyphs" stroke="#111" stroke-width="0.18" >Salt model</text>
<rect x="184.5" y="352.5" width="12.7" height="11.2" fill="url(#hL)"/>
<rect x="184.5" y="366" width="12.7" height="11" fill="url(#hL)"/>
<line x1="184.5" y1="351.2" x2="197.2" y2="351.2" stroke="#40e8f0" stroke-width="1.4" stroke-dasharray="1.6 1.1"/>
<line x1="184.5" y1="364.7" x2="197.2" y2="364.7" stroke="#ee3333" stroke-width="1.4" stroke-dasharray="1.6 1.1"/>
<line x1="184.5" y1="377.9" x2="197.2" y2="377.9" stroke="#4040ee" stroke-width="1.4" stroke-dasharray="1.6 1.1"/>
<text x="205.0" y="360.4" font-size="7.8" fill="#1a1a1a" textLength="37.4" lengthAdjust="spacingAndGlyphs" stroke="#1a1a1a" stroke-width="0.18" >Oil window</text>
<text x="205.0" y="375.9" font-size="7.8" fill="#1a1a1a" textLength="42.5" lengthAdjust="spacingAndGlyphs" stroke="#1a1a1a" stroke-width="0.18" >Gas window</text>
<line x1="262.8" y1="333.2" x2="297.6" y2="333.2" stroke="#40eef0" stroke-width="1.5" stroke-dasharray="2.8 1.9"/>
<text x="300.7" y="335.1" font-size="5.15" fill="#333" stroke="#333" stroke-width="0.18" >%Ro=0,5</text>
<line x1="262.8" y1="341" x2="297.6" y2="341" stroke="#44e044" stroke-width="1.5" stroke-dasharray="2.8 1.9"/>
<text x="300.7" y="342.9" font-size="5.15" fill="#333" stroke="#333" stroke-width="0.18" >%Ro=0,85</text>
<line x1="262.8" y1="349" x2="297.6" y2="349" stroke="#ee3333" stroke-width="1.5" stroke-dasharray="2.8 1.9"/>
<text x="300.7" y="350.9" font-size="5.15" fill="#333" stroke="#333" stroke-width="0.18" >%Ro=1,0</text>
<line x1="262.8" y1="356.7" x2="297.6" y2="356.7" stroke="#f5ec10" stroke-width="1.5" stroke-dasharray="2.8 1.9"/>
<text x="300.7" y="358.6" font-size="5.15" fill="#333" stroke="#333" stroke-width="0.18" >%Ro=1,1</text>
<line x1="262.8" y1="364.7" x2="297.6" y2="364.7" stroke="#4848ee" stroke-width="1.5" stroke-dasharray="2.8 1.9"/>
<text x="300.7" y="366.6" font-size="5.15" fill="#333" stroke="#333" stroke-width="0.18" >%Ro=1,3</text>
<line x1="262.8" y1="372.5" x2="297.6" y2="372.5" stroke="#3f8f3f" stroke-width="1.5" stroke-dasharray="2.8 1.9"/>
<text x="300.7" y="374.4" font-size="5.15" fill="#333" stroke="#333" stroke-width="0.18" >%Ro=2,0</text>
<line x1="262.8" y1="380.1" x2="297.6" y2="380.1" stroke="#d040d0" stroke-width="1.5" stroke-dasharray="2.8 1.9"/>
<text x="300.7" y="382.0" font-size="5.15" fill="#333" stroke="#333" stroke-width="0.18" >%Ro=3,0</text>
</svg>
</body></html>
